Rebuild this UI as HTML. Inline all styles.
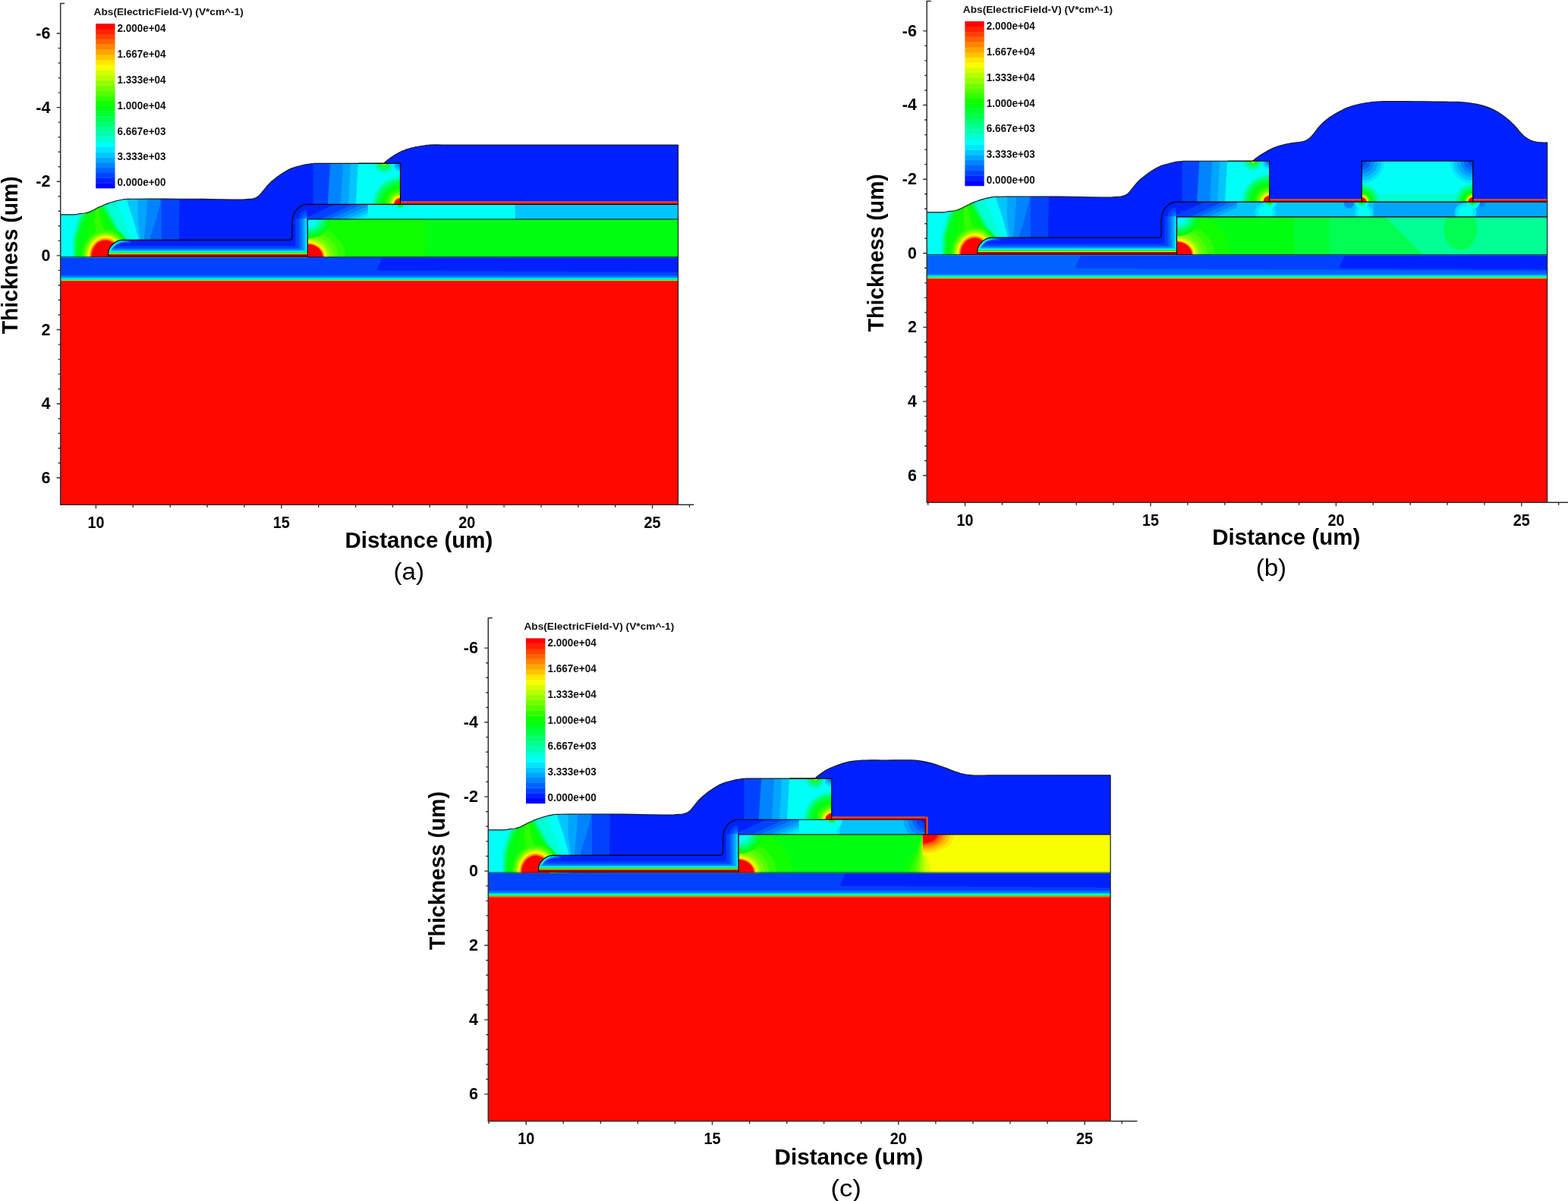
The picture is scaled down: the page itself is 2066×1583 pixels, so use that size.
<!DOCTYPE html>
<html><head><meta charset="utf-8"><title>Electric field distribution</title>
<style>html,body{margin:0;padding:0;background:#fff;overflow:hidden}svg{display:block}</style></head>
<body>
<svg width="2066" height="1583" viewBox="0 0 2066 1583">
<rect width="2066" height="1583" fill="#fff"/>
<clipPath id="deva"><path d="M79.7,282.9 80,282.9 83,282.9 86,282.9 88.9,282.9 91.6,282.9 94,282.9 95.5,282.9 96.9,282.9 98.2,282.9 99.4,282.8 100.5,282.7 101.1,282.6 101.7,282.4 102.2,282.2 102.8,282.1 103.5,281.9 105.2,281.7 107.3,281.5 109.5,281.3 111.7,281 113.8,280.6 115.4,280.1 117,279.6 118.5,279 120.1,278.3 121.6,277.6 123.3,276.8 124.9,275.9 126.6,275 128.3,274.1 130,273.3 131.7,272.5 133.3,271.7 135,271 136.7,270.2 138.5,269.5 140.8,268.6 143.2,267.8 145.6,267 148.1,266.2 150.6,265.5 153,264.8 155.5,264.2 158,263.7 160.4,263.2 162.7,262.8 164.5,262.6 166.1,262.5 167.7,262.4 169.6,262.4 172,262.3 182.7,262.2 197.7,262.1 215,262.1 233.1,262.2 250,262.2 267.6,262.4 286.6,262.8 305,263.1 320.7,263 331.5,262.1 333.7,261.7 335.4,261.2 336.8,260.7 338.1,260 339.5,259.2 341.1,258 342.6,256.5 344,254.9 345.4,253.2 346.8,251.5 348.2,249.8 349.6,248 351,246.3 352.4,244.5 354,242.8 355.8,241.1 357.7,239.3 359.7,237.7 361.7,236.1 363.7,234.5 365.6,233 367.5,231.6 369.5,230.3 371.4,229 373.4,227.7 375.3,226.5 377.2,225.4 379.2,224.3 381.1,223.3 383.1,222.4 385,221.6 387,221 388.9,220.4 390.9,219.8 392.8,219.3 394.7,218.8 396.6,218.2 398.5,217.8 400.4,217.3 402.4,216.9 404.7,216.5 407.1,216.2 409.6,215.9 412.1,215.7 414.5,215.4 452.5,215.4 505.6,215.4 506.1,215 506.5,214.6 507,214.1 507.4,213.7 508,213.2 509,212.4 510.1,211.4 511.3,210.4 512.7,209.4 514,208.4 515.7,207.2 517.6,205.9 519.5,204.7 521.5,203.5 523.4,202.4 525.2,201.4 527.1,200.5 529,199.6 530.9,198.8 532.9,198 535.3,197.1 537.8,196.3 540.3,195.5 542.9,194.8 545.5,194.2 548.1,193.6 550.7,193.2 553.3,192.7 555.8,192.3 558.2,192 559.9,191.8 561.3,191.6 562.8,191.4 564.4,191.2 566.4,191.1 571.1,190.9 576.6,190.9 583.1,191 590.8,191.1 600,191.1 640.1,191.1 696.5,191.1 762.2,191.1 830.2,191.1 893.5,191.1 893.5,665.3 79.7,665.3Z"/></clipPath>
<g clip-path="url(#deva)">
<rect x="79.7" y="369.5" width="813.8" height="295.8" fill="#ff0800"/>
<rect x="78.7" y="338" width="815.8" height="33" fill="#0021ff"/>
<path fill="#0042ff" d="M79.2,338L894.7,338L894.7,340.2L503.7,340.2L502.9,341L502.9,341.5L501.9,343L501.9,344L499.4,348.5L499.4,349.5L497.4,353L497.4,354L496.4,355.5L496.7,356.3L498.7,356.3L499.2,356.8L582.2,356.8L582.7,357.3L665.2,357.3L665.7,357.8L748.7,357.8L749.2,358.3L832.2,358.3L832.7,358.8L894.7,358.8L894.7,371L78.7,371L78.7,338Z"/>
<path fill="#0063ff" d="M79.2,338L405.6,338L405.6,339.5L405.2,339.9L78.7,339.9L78.7,338ZM79.2,362.5L894.7,362.5L894.7,371L78.7,371L78.7,362.5Z"/>
<path fill="#0084ff" d="M79.2,338L405.5,338L405.2,339.8L78.7,339.8L78.7,338ZM79.2,364.2L894.7,364.2L894.7,371L78.7,371L78.7,364.2Z"/>
<path fill="#00a5ff" d="M79.2,338L405.4,338L405.2,339.6L78.7,339.6L78.7,338ZM79.2,365.6L894.7,365.6L894.7,371L78.7,371L78.7,365.6Z"/>
<path fill="#00c5ff" d="M79.2,338L405.2,338L405.2,339.2L78.7,339.2L78.7,338ZM79.2,366.2L894.7,366.2L894.7,371L78.7,371L78.7,366.2Z"/>
<path fill="#00e6ff" d="M79.2,366.8L894.7,366.8L894.7,371L78.7,371L78.7,366.8Z"/>
<path fill="#00fff7" d="M79.2,367.3L894.7,367.3L894.7,371L78.7,371L78.7,367.3Z"/>
<path fill="#00ffd6" d="M79.2,367.7L894.7,367.7L894.7,371L78.7,371L78.7,367.7Z"/>
<path fill="#00ffb5" d="M79.2,367.9L894.7,367.9L894.7,371L78.7,371L78.7,367.9Z"/>
<path fill="#00ff94" d="M79.2,368.2L894.7,368.2L894.7,371L78.7,371L78.7,368.2Z"/>
<path fill="#00ff73" d="M79.2,368.4L894.7,368.4L894.7,371L78.7,371L78.7,368.4Z"/>
<path fill="#00ff52" d="M79.2,368.7L894.7,368.7L894.7,371L78.7,371L78.7,368.7Z"/>
<path fill="#00ff31" d="M79.2,368.9L894.7,368.9L894.7,371L78.7,371L78.7,368.9Z"/>
<path fill="#00ff10" d="M79.2,369.1L894.7,369.1L894.7,371L78.7,371L78.7,369.1Z"/>
<path fill="#10ff00" d="M79.2,369.2L894.7,369.2L894.7,371L78.7,371L78.7,369.2Z"/>
<path fill="#31ff00" d="M79.2,369.3L894.7,369.3L894.7,371L78.7,371L78.7,369.3Z"/>
<path fill="#52ff00" d="M79.2,369.4L894.7,369.4L894.7,371L78.7,371L78.7,369.4Z"/>
<path fill="#73ff00" d="M79.2,369.6L894.7,369.6L894.7,371L78.7,371L78.7,369.6Z"/>
<path fill="#94ff00" d="M79.2,369.7L894.7,369.7L894.7,371L78.7,371L78.7,369.7Z"/>
<path fill="#b5ff00" d="M79.2,369.8L894.7,369.8L894.7,371L78.7,371L78.7,369.8Z"/>
<path fill="#d6ff00" d="M79.2,369.9L894.7,369.9L894.7,371L78.7,371L78.7,369.9Z"/>
<path fill="#f7ff00" d="M79.2,370L894.7,370L894.7,371L78.7,371L78.7,370Z"/>
<path fill="#ffe600" d="M79.2,370.1L894.7,370.1L894.7,371L78.7,371L78.7,370.1Z"/>
<path fill="#ffc500" d="M79.2,370.2L894.7,370.2L894.7,371L78.7,371L78.7,370.2Z"/>
<path fill="#ffa500" d="M79.2,370.2L894.7,370.2L894.7,371L78.7,371L78.7,370.2Z"/>
<path fill="#ff8400" d="M79.2,370.3L894.7,370.3L894.7,371L78.7,371L78.7,370.3Z"/>
<path fill="#ff6300" d="M79.2,370.4L894.7,370.4L894.7,371L78.7,371L78.7,370.4Z"/>
<path fill="#ff4200" d="M79.2,370.4L894.7,370.4L894.7,371L78.7,371L78.7,370.4Z"/>
<path fill="#ff2100" d="M79.2,370.5L894.7,370.5L894.7,371L78.7,371L78.7,370.5Z"/>
<path fill="#ff0000" d="M79.2,370.7L894.7,370.7L894.7,371L78.7,371L78.7,370.7Z"/>
<rect x="78.7" y="205" width="336.8" height="134" fill="#0021ff"/>
<path fill="#0042ff" d="M79.2,205L236.6,205L236.6,268L236.1,294L235.9,339L78.7,339L78.7,205Z"/>
<path fill="#0063ff" d="M79.2,205L212.9,205L212.9,339L78.7,339L78.7,205Z"/>
<path fill="#0084ff" d="M79.2,205L211.4,205L211.4,258L211.2,268L205.2,290L198,313.5L197.9,339L78.7,339L78.7,205Z"/>
<path fill="#00a5ff" d="M79.2,205L194.2,205L194.2,258L193.9,268L192.3,290.5L190,313.5L189.9,339L78.7,339L78.7,205Z"/>
<path fill="#00c5ff" d="M79.2,205L181.6,205L181.6,290L184.9,314L184.9,339L78.7,339L78.7,205Z"/>
<path fill="#00e6ff" d="M79.2,205L166.5,205L166.5,258.5L168.6,268.5L176,290L182.5,314L182.5,339L78.7,339L78.7,205Z"/>
<path fill="#00fff7" d="M79.2,205L166,205L166,258L168,268L175.7,290.3L181.8,313L182,339L78.7,339L78.7,205Z"/>
<path fill="#00ffd6" d="M116.7,205L151.8,205L151.8,258L153.8,268L173.4,314L173.9,339L95.2,339L95.2,314L101.1,290.5L112.3,268L116.3,258L116.3,205Z"/>
<path fill="#00ffb5" d="M118.2,205L137.3,205L137.3,258L139.3,268L150.5,290L160.2,306.7L165.4,313L169,319L171,324L172.4,329.5L173,333.5L173.1,339L96.2,339L96.3,314L102.7,290L113.9,268L117.9,258L117.9,205Z"/>
<path fill="#00ff94" d="M119.7,205L135.4,205L135.4,258L137.7,268L149.2,290L158.1,305.5L164.3,312L168.4,318.5L170.3,323L171.8,328L172.8,334L172.9,339L97.1,339L97.5,314L104.2,290L115.5,268L119.5,258L119.5,205Z"/>
<path fill="#00ff73" d="M121.2,205L133.6,205L133.6,258L136,268L155.8,304L162.8,310.5L165.5,314L167.9,318L170.1,323L171.6,328L172.5,333.5L172.7,339L98.1,339L98.6,314L105.6,290L117.1,268L121.1,258L121.1,205Z"/>
<path fill="#00ff52" d="M123.2,205L131.8,205L131.8,258L134.4,268L154.2,303.5L158.2,306.4L161.7,309.6L164.7,313.2L167.4,317.5L169.7,322.5L171.4,328L172.3,333.5L172.6,339L99,339L99.7,314L107.1,290L118.7,268L122.7,258L122.7,205Z"/>
<path fill="#00ff31" d="M124.7,205L129.9,205L129.9,258L132.7,268L152.2,302.5L157.2,305.8L160.8,309L164.3,313L167.2,317.5L169.5,322.5L171.2,328L172.1,333L172.4,339L100,339L100.8,314L108.5,290L120.3,268L124.3,258L124.3,205Z"/>
<path fill="#00ff10" d="M126.2,205L128.1,205L128.1,258L131.1,268L143.8,289.5L150.4,302L155.6,305L159.5,308L163.3,312L166.7,317L169.2,322.2L170.8,327L171.8,332.5L172.1,339L101.1,339L101.2,331.5L102.2,313.3L110.2,289.6L122,268L125.7,258.5L125.7,205Z"/>
<path fill="#10ff00" d="M126.2,205L127.2,205L127.2,258L129.5,268L142.7,300L144.2,300.8L146.2,301L146.7,301.4L147.7,301.5L151.7,303L156.7,306L161.7,310.5L165.2,315L166.7,317.5L168.7,321.5L170.2,325.9L170.3,327L170.7,327.5L171.3,332L171.7,333L171.7,339L106.1,339L106.2,334L107.7,326L110.2,319.5L114.6,312L117.1,290L123.9,268L125.9,258.5L125.9,205Z"/>
<path fill="#31ff00" d="M126.2,205L126.5,205L126.5,258L127.9,268L132.5,290L136.7,303L143.2,303.3L149.2,305L154.8,308L159.9,312.5L164,318L167.1,324.5L169,331.5L169.5,339L108.5,339L108.7,334L109.5,329L111,324L113.1,319.5L115.6,315.5L118.7,311.8L122.2,308.7L126.4,306L124.5,290L126.1,258L126.1,205Z"/>
<path fill="#52ff00" d="M135.7,305.5L141.7,305.4L147.7,306.8L153.2,309.6L158.2,313.8L162.2,319L165.2,325.1L167,332L167.5,339L110.5,339L110.8,333L112.2,327L114.4,321.5L117.2,316.9L120.7,312.9L125.2,309.3L130.2,306.8L135.4,305.5Z"/>
<path fill="#73ff00" d="M135.2,307L141.2,306.8L146.8,308L152.2,310.6L157.2,314.7L161,319.5L164,325.5L165.7,332L166.2,339L111.8,339L112,333.5L113.2,328L115.2,322.7L118,318L121.5,314L125.7,310.7L130.2,308.4L135.1,307Z"/>
<path fill="#94ff00" d="M135.2,308.4L140.7,308.2L146.2,309.3L151.7,311.9L156.2,315.6L160.1,320.5L162.8,326L164.6,332.5L165,339L113,339L113.3,333.5L114.3,328.5L116.3,323.5L118.9,319L122.2,315.2L126.2,312L130.2,309.9L134.8,308.5Z"/>
<path fill="#b5ff00" d="M138.2,309.5L143.2,309.9L147.7,311.3L152.2,313.8L156.3,317.5L159.8,322.5L161.9,327L163.4,332.5L163.8,339L114.2,339L114.5,333.5L115.6,328.5L117.6,323.5L120.9,318.5L124.7,314.7L128.7,312.1L133.2,310.3L138.1,309.5Z"/>
<path fill="#d6ff00" d="M135.2,310.9L140.7,310.6L145.7,311.7L150.7,314.1L154.9,317.5L158.4,322L160.9,327L162.5,333L162.9,339L115.1,339L115.4,334L116.3,329.5L118,325L120.3,321L123.2,317.4L126.7,314.5L130.7,312.3L134.7,311Z"/>
<path fill="#f7ff00" d="M135.2,312L140.2,311.7L145.2,312.6L150.2,315L154.2,318.3L157.6,322.5L160,327.5L161.5,333L161.9,339L116.1,339L116.3,334L117.3,329.5L119,325L121.2,321.4L124.2,317.9L127.7,315.1L131.2,313.2L135.2,312Z"/>
<path fill="#ffe600" d="M135.7,313L140.2,312.7L145.2,313.7L149.7,315.9L153.7,319.2L157,323.5L159.4,328.5L160.6,333L161,339L117,339L117.1,335L118,330.5L119.4,326.5L121.9,322L124.7,318.8L127.7,316.3L131.7,314.1L135.7,313Z"/>
<path fill="#ffc500" d="M135.7,313.9L140.7,313.7L145.2,314.7L149.2,316.6L153.2,319.9L156.4,324L158.5,328.5L159.9,333.5L160.2,339L117.8,339L118,334.5L118.8,330.5L120.3,326.5L122.3,323L125.2,319.5L128.2,317L131.7,315.1L135.2,314Z"/>
<path fill="#ffa500" d="M135.2,314.9L139.7,314.5L144.2,315.3L148.2,317L152.2,320.1L155.4,324L157.7,328.5L159.1,333.5L159.4,339L118.6,339L118.7,335L119.5,331L120.9,327L122.9,323.5L125.4,320.5L128.2,318.1L131.2,316.3L134.8,315Z"/>
<path fill="#ff8400" d="M137.7,315.5L141.7,315.6L145.7,316.7L149.2,318.6L152.7,321.8L155.1,325L157.1,329L158.5,334.5L158.7,339L119.3,339L119.4,335.5L120.4,330.5L121.8,327L124.3,323L126.7,320.4L129.7,318.1L133.7,316.2L137.2,315.5Z"/>
<path fill="#ff6300" d="M137.7,315.9L141.7,316.1L145.7,317.3L149.2,319.3L152.3,322L154.9,325.5L156.8,329.5L157.8,333.5L158.2,339L119.8,339L120.1,334L121.1,330L122.6,326.5L124.5,323.5L127.2,320.6L130.2,318.4L133.2,316.9L137.2,316Z"/>
<path fill="#ff4200" d="M136.7,316.5L140.7,316.4L144.7,317.3L148.2,319.1L151.7,322L154.4,325.5L156.4,329.5L157.6,334L157.9,339L120.1,339L120.3,335L121.1,331L122.5,327.5L124.6,324L127.2,321.1L129.9,319L133.2,317.4L136.5,316.5Z"/>
<path fill="#ff2100" d="M136.2,316.9L140.2,316.7L144.2,317.6L147.7,319.2L151.2,322L154,325.5L156,329.5L157.2,334L157.5,339L120.5,339L120.7,335L121.4,331.5L122.7,327.9L124.7,324.5L127.2,321.6L129.7,319.6L132.7,318L135.9,317Z"/>
<path fill="#ff0000" d="M135.7,317.4L140.2,317.2L144.2,318L148.2,320L151.2,322.5L153.9,326L155.8,330L156.8,334L157.1,339L120.9,339L121,335L121.7,331.6L123,328L124.7,325.1L126.7,322.6L129.2,320.4L132.5,318.5L135.5,317.5Z"/>
<rect x="414.5" y="120" width="480" height="149.7" fill="#0021ff"/>
<clipPath id="ga"><rect x="412.5" y="215.4" width="115.0" height="53.79999999999998"/></clipPath>
<g clip-path="url(#ga)">
<rect x="411.5" y="214.4" width="117" height="55.8" fill="#0021ff"/>
<path fill="#0042ff" d="M412.5,214.4L528.5,214.4L528.5,270.4L411.5,270.4L411.5,224.2L412.1,214.4Z"/>
<path fill="#0063ff" d="M435,214.4L528.5,214.4L528.5,270.4L431.6,270.4L434.9,214.4Z"/>
<path fill="#0084ff" d="M435.5,214.4L528.5,214.4L528.5,270.4L431.9,270.4L435.4,214.4ZM527,214.9L526.8,215.4L527,215.9L527.5,216.1L528,215.9L528.2,215.4L528,214.9L527.5,214.7L527,214.9Z"/>
<path fill="#00a5ff" d="M452.5,214.4L523.1,214.4L523.1,216.4L524.2,218.4L526,219.6L528.5,219.7L528.5,270.4L448.8,270.4L452.1,214.4Z"/>
<path fill="#00c5ff" d="M462.5,214.4L521,214.4L521.2,217.4L522.7,219.9L524,220.9L525.5,221.6L528.5,221.8L528.5,270.4L458.7,270.4L462.1,214.4Z"/>
<path fill="#00e6ff" d="M472,214.4L519.3,214.4L519.2,217.9L520.1,219.9L521.3,221.4L523,222.8L524.5,223.5L526.5,224L528.5,223.9L528.5,270.4L468.6,270.4L471.8,214.4Z"/>
<path fill="#00fff7" d="M472.5,214.4L518.6,214.4L518.6,218.9L518.2,220.9L519.3,222.4L521,224L523.5,225.3L526,226L528.5,226L528.5,270.4L468.9,270.4L472.3,214.4Z"/>
<path fill="#00ffd6" d="M493,214.4L517.7,214.4L517.6,221.4L516.7,222.9L514.9,224.9L512,227.1L509.5,228.1L506,228.6L502.5,228.1L502,227.7L501,227.6L499,226.5L496.5,224.3L494.9,222.4L493.8,220.4L492.9,216.4L492.9,214.4ZM524,232.9L528.5,232.7L528.5,270.4L491,270.4L491.5,263.4L493.1,256.9L496,250.8L500,245.2L505,240.5L510.5,236.9L517,234.2L523.7,232.9Z"/>
<path fill="#00ffb5" d="M494.5,214.4L516.7,214.4L516.6,220.4L515,222.9L513,224.8L511,226L508.5,226.8L506,227.1L503.5,226.8L501.5,226.2L499.5,225.1L497.4,223.4L495.9,221.4L495,219.4L494.4,216.9L494.3,214.4ZM525.5,233.9L528.5,233.8L528.5,270.4L492.1,270.4L492.6,263.4L494.3,256.9L497.2,250.9L501.3,245.4L506.3,240.9L512,237.4L518.5,235L525.2,233.9Z"/>
<path fill="#00ff94" d="M496.5,214.4L515.7,214.4L515.5,218.4L514.6,220.4L513.5,221.9L511.9,223.4L510,224.5L508,225.1L506,225.3L504,225.1L502,224.5L500.1,223.4L498.5,221.9L497.4,220.4L496.5,218.4L496.1,216.4L496.1,214.4ZM527,235.4L528.5,235.4L528.5,270.4L493.7,270.4L494.1,263.9L495.8,257.4L498.8,251.4L503,245.9L508,241.6L513.5,238.4L520,236.2L526.6,235.4Z"/>
<path fill="#00ff73" d="M498.5,214.4L513.9,214.4L513.6,217.9L512,220.7L509.5,222.6L508,223.1L506,223.4L504,223.1L502.5,222.6L500,220.7L498.4,217.9L498.1,214.4ZM522.5,237.3L528.5,237L528.5,270.4L495.3,270.4L495.6,264.4L496.9,258.9L499.1,253.9L502.4,248.9L506.5,244.7L511.2,241.4L516.5,238.9L522.1,237.4Z"/>
<path fill="#00ff52" d="M500.5,214.4L511.8,214.4L511.7,216.9L510.5,219.2L508.5,220.8L506,221.3L503.5,220.8L501.5,219.2L500.3,216.9L500.2,214.4ZM523,238.8L528.5,238.5L528.5,270.4L496.8,270.4L497.1,264.9L498.4,259.4L500.6,254.4L503.6,249.9L507.5,245.9L512,242.7L517,240.4L522.6,238.9Z"/>
<path fill="#00ff31" d="M501.5,214.7L501.5,214.4L510.5,214.4L510.5,216.4L509.8,217.9L508.5,219.2L507,219.9L505.5,219.9L504,219.5L502.5,218.3L501.7,216.9L501.5,214.9ZM522.5,241.4L528.5,241L528.5,270.4L499.3,270.4L499.5,265.4L500.7,260.4L502.6,255.9L505.5,251.5L509,247.9L513,245L517.5,242.8L522.5,241.4Z"/>
<path fill="#00ff10" d="M502.5,214.4L509.6,214.4L509.7,215.9L509,217.7L507.5,218.9L506,219.2L504.5,218.9L503,217.7L502.3,215.9L502.4,214.4ZM523.5,244.4L528.5,244.1L528.5,270.4L502.4,270.4L502.6,265.9L503.6,261.4L505.3,257.4L508,253.4L511,250.3L515,247.4L519,245.6L523.5,244.4Z"/>
<path fill="#10ff00" d="M503.5,214.4L509,214.4L509,216.4L508.4,217.4L507.5,218.2L506,218.4L504.5,218.2L503.6,217.4L503,216.4L503,214.4ZM525,247.3L528.5,247.2L528.5,270.4L505.5,270.4L505.7,265.9L506.7,261.9L508.3,258.4L510.8,254.9L513.5,252.2L516.5,250.1L521,248.2L524.5,247.4Z"/>
<path fill="#31ff00" d="M503.5,214.4L508.7,214.4L508.8,215.9L508.4,216.9L507,218.1L506,218.2L505,218.1L503.6,216.9L503.2,215.9L503.3,214.4ZM523.5,250.4L528.5,250L528.5,270.4L508.3,270.4L508.4,266.9L509,263.9L510.1,260.9L512,257.8L514.5,255L517,253L520,251.5L523.3,250.4Z"/>
<path fill="#52ff00" d="M503.5,214.4L508.5,214.4L508.5,216.4L507.5,217.6L506.5,218.1L505.5,218.1L504.5,217.6L503.8,216.9L503.3,215.9L503.3,214.9ZM525,252.9L528.5,252.7L528.5,270.4L511,270.4L511.1,267.4L511.7,264.4L512.9,261.4L514.5,259L516.5,256.9L519,255L522,253.6L524.8,252.9Z"/>
<path fill="#73ff00" d="M504,214.4L508.3,214.4L508.5,215.9L508,216.9L507,217.7L506,217.9L505,217.7L504,216.9L503.5,215.9L503.7,214.4ZM525,254.9L528.5,254.7L528.5,270.4L513,270.4L513.1,267.4L513.6,264.9L514.6,262.4L515.9,260.4L517.8,258.4L520,256.7L522.5,255.5L524.9,254.9Z"/>
<path fill="#94ff00" d="M504,214.4L508.2,214.4L508.4,215.4L508,216.7L507,217.6L506,217.8L505,217.6L504,216.7L503.6,215.4L503.8,214.4ZM525.5,255.8L528.5,255.7L528.5,270.4L514.1,270.4L514.1,267.9L514.5,265.4L515.6,262.9L516.9,260.9L518.5,259.1L520.5,257.7L523,256.5L525.2,255.9Z"/>
<path fill="#b5ff00" d="M504,214.4L508,214.4L508.2,215.4L508,216.4L507,217.4L505.5,217.6L504,216.4L503.8,214.9ZM526,256.8L528.5,256.8L528.5,270.4L515.1,270.4L515.1,267.9L515.6,265.4L516.5,263.4L517.8,261.4L519.5,259.7L521.3,258.4L523.5,257.4L525.5,256.9Z"/>
<path fill="#d6ff00" d="M504,214.9L504.2,214.4L507.8,214.4L508,215.9L507,217.2L505.5,217.4L504.2,216.4L504,214.9ZM526,257.9L528.5,257.8L528.5,270.4L516.1,270.4L516.2,267.9L516.6,265.9L518.5,262.2L521.6,259.4L523.5,258.5L525.9,257.9Z"/>
<path fill="#f7ff00" d="M504.5,214.4L507.6,214.4L507.9,215.4L507.6,216.4L507,217L506,217.3L505,217L504.4,216.4L504.1,215.4L504.4,214.4ZM525.5,258.9L528.5,258.7L528.5,270.4L517,270.4L517.3,266.4L519,263L521.7,260.4L525.3,258.9Z"/>
<path fill="#ffe600" d="M504.5,214.5L507.4,214.4L507.7,215.9L506.9,216.9L505.5,217.1L504.5,216.3L504.3,214.9ZM525,259.8L528.5,259.5L528.5,270.4L517.8,270.4L518,266.9L519.3,263.9L521.5,261.5L524.6,259.9Z"/>
<path fill="#ffc500" d="M504.5,214.9L504.8,214.4L507.2,214.4L507.5,214.9L507.5,215.9L506.5,216.9L505.5,216.9L504.5,215.9L504.5,214.9ZM526,260.4L528.5,260.3L528.5,270.4L518.6,270.4L518.8,266.9L520.3,263.9L522.5,261.8L525.8,260.4Z"/>
<path fill="#ffa500" d="M505,214.4L507,214.4L507.4,215.4L507.3,215.9L506.5,216.7L505.5,216.7L504.7,215.9L504.7,214.9ZM526.5,260.7L528.5,260.7L528.5,270.4L519.1,270.4L519.3,266.9L520.9,263.9L523.5,261.7L526,260.9Z"/>
<path fill="#ff8400" d="M505,214.8L505.4,214.4L506.6,214.4L507.1,214.9L507.1,215.9L506.5,216.5L505.5,216.5L504.9,215.9L504.9,214.9ZM525,261.3L528.5,261L528.5,270.4L519.3,270.4L519.4,267.4L520.4,264.9L522.5,262.6L524.8,261.4Z"/>
<path fill="#ff6300" d="M505.5,214.6L506,214.5L506.8,214.9L506.9,215.4L506.5,216.2L506,216.3L505.2,215.9L505.2,214.9ZM525.5,261.4L528.5,261.2L528.5,270.4L519.5,270.4L519.6,267.4L520.6,264.9L522.5,262.8L525.3,261.4Z"/>
<path fill="#ff4200" d="M506,214.7L506.5,214.9L506.7,215.4L506.5,215.9L506,216.1L505.5,215.9L505.3,215.4L505.5,214.9ZM526.5,261.3L528.5,261.3L528.5,270.4L519.7,270.4L519.8,267.4L521,264.7L523.4,262.4L526.1,261.4Z"/>
<path fill="#ff2100" d="M506,214.9L506.5,215.4L506,215.9L505.5,215.4ZM525,261.9L528.5,261.5L528.5,270.4L519.8,270.4L519.9,267.9L520.7,265.4L522.5,263.3L524.9,261.9Z"/>
<path fill="#ff0000" d="M506,215.2L506.2,215.4L506,215.6L505.8,215.4ZM525.5,261.9L528.5,261.8L528.5,270.4L520,270.3L520,268.1L521,265.3L523.3,262.9L525.4,261.9Z"/>
</g>
<clipPath id="ba"><path d="M142.6,338 142.6,334 143.2,330 145.5,325.5 149,321.5 153.5,318.3 158,316.7 162,316.3 381.5,316.3 384,315.2 385,312.5 385,293 385.8,286 388,280.5 391.5,275.5 396,272 400.5,270 404,269.3 893.5,269.3 893.5,338.5 142.6,338.5Z"/></clipPath>
<g clip-path="url(#ba)">
<rect x="141" y="268" width="753.5" height="71" fill="#0021ff"/>
<path fill="#0042ff" d="M141.5,268L172,268L172,320.5L170.5,321.1L164.5,320.4L160.5,320.7L156.2,322L154.3,323L153,324L153,324.2L389,324.2L389.3,323.5L389.3,288.5L393.3,288L394.1,284L395.1,282L396.5,280.3L399.5,278.1L402,277.2L404,277L404.3,279.5L404.5,286.3L444.9,268L894.5,268L894.5,339L141,339L141,268Z"/>
<path fill="#0063ff" d="M141.5,268L169.5,268L169.5,319L169,319.5L168,319.7L161,320.1L156.5,321.4L154,322.8L152,324.3L149.9,326.5L150,327.1L393,327.1L393.3,327L393.4,326.5L393.4,288.5L397.7,288L398.5,285L400,283L402,281.8L404,281.4L404.4,288.5L404.5,297L468.3,268L894.5,268L894.5,339L141,339L141,268Z"/>
<path fill="#0084ff" d="M141.5,268L166.9,268L166.9,318.5L159,320.1L155,321.7L152.5,323.4L150.5,325.3L148.4,328L148.5,328.4L149,328.4L396,328.4L396.5,328L396.5,288.5L400.9,288L401.3,286.5L402,285.6L404,284.6L404.3,288.5L404.5,302.3L480,268L894.5,268L894.5,339L141,339L141,268Z"/>
<path fill="#00a5ff" d="M141.5,268L164.4,268L164.4,318L157,320.3L153.5,322.2L151.5,323.7L149.4,326L147.7,328.5L147.5,329.6L398.5,329.6L399,329.5L399,288.5L403.5,288L404,287.3L404.3,288.5L404.5,307.9L484.5,271.6L484.6,268L894.5,268L894.5,339L141,339L141,268Z"/>
<path fill="#00c5ff" d="M141.5,268L161.8,268L161.8,318L156,320.2L152,322.8L148.2,327L146.8,329.5L146.7,330L147,330.2L400.5,330.2L401.1,330L401.1,288.5L404,288.1L404.2,288.5L404.5,312.8L484.5,276.5L484.7,268L894.5,268L894.5,339L141,339L141,268Z"/>
<path fill="#00e6ff" d="M141.5,268L158.3,268L158.3,318L158.1,318.5L153,321.3L149.5,324.5L147.9,326.5L146.5,329L145.9,330.5L146.5,330.9L402,330.9L402.9,330.5L402.9,288.5L404.1,288.5L404.2,310.5L404.5,317.1L484.5,280.7L484.8,268L678.8,268L678.8,339L141,339L141,268Z"/>
<path fill="#00fff7" d="M141.5,268L152.3,268L152.3,320.5L152.1,321L148.7,324.5L146.9,327L145.4,330L145,331.5L404,331.5L404.2,331L404.2,322L404.5,321.2L484.5,284.8L484.9,282L485,268L678.5,268L678.5,339L141,339L141,268Z"/>
<path fill="#00ffd6" d="M521.5,268L533.9,268L533.7,271L532.5,273.3L530.4,275L527.5,275.7L524.6,275L522.5,273.3L521.3,271L521.1,268ZM141.5,331.7L484.5,331.8L484.9,333L485,339L141,339L141,331.7Z"/>
<path fill="#00ffb5" d="M523,268L532.3,268L532.2,270.5L531.1,272.5L529.5,273.7L527.5,274.1L525.5,273.7L523.9,272.5L522.8,270.5L522.7,268ZM141.5,332.1L484.5,332.1L484.9,333.5L485,339L141,339L141,332.1Z"/>
<path fill="#00ff94" d="M523.5,268L531.8,268L531.9,270L531,272L529.5,273.2L527.5,273.7L525.5,273.2L524,272L523.1,270L523.2,268ZM141.5,332.3L484.5,332.3L484.9,335L484.9,339L141,339L141,332.3Z"/>
<path fill="#00ff73" d="M523.5,268.5L523.6,268L531.4,268L531.5,270L530.8,271.5L529.9,272.5L528.5,273.1L527,273.2L525.5,272.7L524.2,271.5L523.5,270L523.5,268.5ZM141.5,332.6L484.5,332.6L484.9,335L484.9,339L141,339L141,332.6Z"/>
<path fill="#00ff52" d="M524,268.1L531,268L531.1,270L530.5,271.3L529.5,272.3L528.5,272.7L527,272.8L525.5,272.3L524.5,271.3L523.9,270L523.9,268.5ZM141.5,332.9L484.5,332.9L484.9,335.5L484.9,339L141,339L141,332.9Z"/>
<path fill="#00ff31" d="M524.5,268L530.6,268L530.8,269.5L530.2,271L529,272.1L527.5,272.5L526,272.1L524.8,271L524.2,269.5L524.4,268ZM141.5,333.2L484.5,333.2L484.9,335.5L484.9,339L141,339L141,333.2Z"/>
<path fill="#00ff10" d="M525,268L530.1,268L530.4,269.5L530,270.6L529,271.7L527.5,272.1L526,271.7L525,270.6L524.6,269.5L524.9,268ZM141.5,333.4L484.5,333.4L484.9,335.5L484.9,339L141,339L141,333.4Z"/>
<path fill="#10ff00" d="M525.5,268L529.6,268L530,269L529.5,270.5L528.5,271.5L527.5,271.6L526.5,271.5L525.5,270.5L525,269L525.4,268ZM141.5,333.7L484.5,333.7L484.8,335.5L484.8,339L141,339L141,333.7Z"/>
<path fill="#31ff00" d="M527,268.4L528.1,268.5L528.4,269.5L528,270L527,270L526.6,269.5L526.9,268.5ZM141.5,334L484.5,334L484.8,335.5L484.8,339L141,339L141,334Z"/>
<path fill="#52ff00" d="M141.5,334.2L484.5,334.2L484.8,335.5L484.8,339L141,339L141,334.2Z"/>
<path fill="#73ff00" d="M141.5,334.4L484.5,334.4L484.8,335.5L484.8,339L141,339L141,334.4Z"/>
<path fill="#94ff00" d="M141.5,334.6L484.5,334.6L484.8,339L141,339L141,334.6Z"/>
<path fill="#b5ff00" d="M141.5,334.6L484.5,334.6L484.7,339L141,339L141,334.6Z"/>
<path fill="#d6ff00" d="M141.5,334.7L484.5,334.7L484.7,339L141,339L141,334.7Z"/>
<path fill="#f7ff00" d="M141.5,334.8L484.5,334.8L484.7,339L141,339L141,334.8Z"/>
<path fill="#ffe600" d="M141.5,334.9L484.5,334.9L484.7,339L141,339L141,334.9Z"/>
<path fill="#ffc500" d="M141.5,335L484.5,335L484.6,339L141,339L141,335Z"/>
<path fill="#ffa500" d="M141.5,335L484.5,335L484.6,339L141,339L141,335Z"/>
<path fill="#ff8400" d="M141.5,335.1L484.5,335.1L484.6,339L141,339L141,335.1Z"/>
<path fill="#ff6300" d="M141.5,335.2L484.5,335.2L484.6,339L141,339L141,335.2Z"/>
<path fill="#ff4200" d="M141.5,335.3L484.5,335.3L484.6,339L141,339L141,335.3Z"/>
<path fill="#ff2100" d="M141.5,335.3L484.5,335.3L484.5,339L141,339L141,335.3Z"/>
<path fill="#ff0000" d="M141.5,335.4L484.5,335.4L484.5,339L141,339L141,335.4Z"/>
</g>
<clipPath id="ca"><rect x="405.3" y="289.0" width="488.2" height="50.10000000000002"/></clipPath>
<g clip-path="url(#ca)">
<rect x="404.3" y="288" width="490.2" height="51.5" fill="#00fff7"/>
<path fill="#00ffd6" d="M417.3,288L894.8,288L894.8,339.5L404.3,339.5L404.3,298.8L406.8,298.8L409.3,298.3L411.8,297.3L413.8,296L415.3,294.5L416.6,292.5L417.2,290.5L417.3,288Z"/>
<path fill="#00ffb5" d="M420.3,288L894.8,288L894.8,339.5L404.3,339.5L404.3,301L407.3,300.9L410.3,300.3L413.3,299L415.8,297.4L417.6,295.5L419.1,293L419.8,290.5L419.9,288Z"/>
<path fill="#00ff94" d="M422.8,288L894.8,288L894.8,339.5L404.3,339.5L404.3,303.1L407.8,303L411.3,302.2L414.8,300.8L417.5,299L419.8,296.7L421.4,294L422.4,291L422.5,288Z"/>
<path fill="#00ff73" d="M424.8,288L894.8,288L894.8,339.5L404.3,339.5L404.3,304.9L408.3,304.7L412.3,303.8L416.3,302.1L419.3,300L421.7,297.5L423.5,294.5L424.5,291.5L424.7,288Z"/>
<path fill="#00ff52" d="M426.8,288L894.8,288L894.8,339.5L404.3,339.5L404.3,306.6L408.8,306.4L412.8,305.5L416.8,303.9L420.5,301.5L423.3,298.7L425.3,295.5L426.5,292L426.8,288Z"/>
<path fill="#00ff31" d="M429.3,288L894.8,288L894.8,339.5L404.3,339.5L404.3,308.3L409.3,308L413.9,307L418.3,305.1L422.2,302.5L425.1,299.5L427.3,296L428.6,292L428.9,288Z"/>
<path fill="#00ff10" d="M432.3,288L894.8,288L894.8,339.5L404.3,339.5L404.3,311L409.8,310.7L415.3,309.5L420.3,307.3L424.5,304.5L427.9,301L430.4,297L431.9,292.5L432.2,288Z"/>
<path fill="#10ff00" d="M436.8,288L560.1,288L560.1,339.5L404.3,339.5L404.3,314L410.8,314L411.3,313.5L413.3,313.5L413.8,313L415.3,313L415.8,312.5L416.8,312.5L417.3,312L419.8,311.5L420.3,311L422.8,310L425.3,308L425.8,308L427.3,306.5L427.8,306.5L430.8,303.5L430.8,303L432.3,301.5L432.3,301L433.3,300L434.8,297L434.9,296L435.8,294L435.9,291.5L436.3,291L436.3,288Z"/>
<path fill="#31ff00" d="M431.3,303.2L436.3,306.2L441.2,310L445.3,314.1L448.8,318.8L451.4,323.5L453.4,328.5L454.6,334L454.9,339.5L404.3,339.5L404.3,314.1L410.8,314.1L411.3,313.6L413.3,313.6L413.8,313.2L415.3,313.1L415.8,312.7L416.8,312.7L417.3,312.2L419.8,311.7L421.3,310.7L422.8,310.2L425.3,308.3L425.8,308.3L427.3,306.8L427.8,306.8L431.3,303.5Z"/>
<path fill="#52ff00" d="M423.8,309.5L424.8,309.2L425.3,309.4L431.8,313.3L436.1,317L439.5,321L442.3,325.5L444.1,330L445.2,334.5L445.5,339.5L404.3,339.5L404.3,314.2L410.8,314.2L411.3,313.8L413.3,313.8L413.8,313.3L415.3,313.3L415.8,312.8L416.8,312.8L417.3,312.3L419.8,311.9L421.3,310.9L422.8,310.4L423.8,309.5Z"/>
<path fill="#73ff00" d="M417.3,312.5L419.3,312.6L425.3,315.5L429.8,318.8L433.4,322.5L436.2,326.5L438,330.5L439.2,335L439.5,339.5L404.3,339.5L404.3,314.3L410.8,314.4L411.3,313.9L413.3,313.9L413.8,313.4L415.3,313.4L415.8,312.9L416.8,313L417.3,312.5Z"/>
<path fill="#94ff00" d="M404.8,314.5L411.3,314.3L415.8,315.5L421.3,317.8L426,321L430,325L432.8,329.5L434.4,334L435,339.5L404.3,339.5L404.3,314.5Z"/>
<path fill="#b5ff00" d="M405.3,315.5L410.8,316L415.8,317.2L420.8,319.5L425.1,322.5L428.4,326L431.2,330.5L432.6,335L433,339.5L404.3,339.5L404.3,315.5L404.8,315.5Z"/>
<path fill="#d6ff00" d="M404.8,317.2L409.8,317.5L414.8,318.7L419.3,320.7L423.5,323.5L426.8,327L429.3,331L430.6,335L431.1,339.5L404.3,339.5L404.3,317.2Z"/>
<path fill="#f7ff00" d="M404.8,318.4L409.8,318.7L414.3,319.8L418.8,321.8L422.6,324.5L425.8,327.9L428,331.5L429.3,335.5L429.6,339.5L404.3,339.5L404.3,318.4Z"/>
<path fill="#ffe600" d="M404.8,319.3L409.3,319.6L413.8,320.7L418,322.5L421.8,325.1L424.6,328L426.8,331.5L428.2,335.5L428.5,339.5L404.3,339.5L404.3,319.3Z"/>
<path fill="#ffc500" d="M404.8,320.2L409.3,320.5L413.3,321.5L417.3,323.2L420.8,325.6L423.7,328.5L425.9,332L427.1,335.5L427.4,339.5L404.3,339.5L404.3,320.2Z"/>
<path fill="#ffa500" d="M404.8,320.8L409.8,321.2L413.8,322.3L417.8,324.3L420.3,326.1L423.5,329.5L425.1,332L426.4,336L426.7,339.5L404.3,339.5L404.3,320.9Z"/>
<path fill="#ff8400" d="M404.8,321.2L408.8,321.4L413.3,322.5L416.8,324.1L420.3,326.5L423.1,329.5L424.9,332.5L426,336L426.3,339.5L404.3,339.5L404.3,321.2Z"/>
<path fill="#ff6300" d="M404.8,321.5L408.8,321.7L412.8,322.7L416.3,324.2L419.8,326.5L422.7,329.5L424.5,332.5L425.7,336L426,339.5L404.3,339.5L404.3,321.5Z"/>
<path fill="#ff4200" d="M404.8,321.8L408.8,322L412.8,323L416.3,324.5L419.8,326.9L422.3,329.5L424.2,332.5L425.3,336L425.6,339.5L404.3,339.5L404.3,321.8Z"/>
<path fill="#ff2100" d="M404.8,322L408.8,322.3L412.8,323.3L416.3,324.8L419.4,327L421.9,329.5L423.8,332.5L425,336L425.3,339.5L404.3,339.5L404.3,322.1Z"/>
<path fill="#ff0000" d="M404.8,322.3L408.1,322.5L412.5,323.5L416,325L419.3,327.3L421.8,329.9L423.4,332.5L424.8,336.8L425,339.5L404.3,339.5L404.3,322.3Z"/>
</g>
<rect x="527.5" y="265.8" width="366" height="3.2" fill="#ff0800"/><rect x="527.5" y="265.6" width="366" height="1" fill="#ff9a00" opacity="0.9"/>
<rect x="142.6" y="335.9" width="262.7" height="2.4" fill="#940000"/>
</g>
<path d="M79.7,282.9 80,282.9 83,282.9 86,282.9 88.9,282.9 91.6,282.9 94,282.9 95.5,282.9 96.9,282.9 98.2,282.9 99.4,282.8 100.5,282.7 101.1,282.6 101.7,282.4 102.2,282.2 102.8,282.1 103.5,281.9 105.2,281.7 107.3,281.5 109.5,281.3 111.7,281 113.8,280.6 115.4,280.1 117,279.6 118.5,279 120.1,278.3 121.6,277.6 123.3,276.8 124.9,275.9 126.6,275 128.3,274.1 130,273.3 131.7,272.5 133.3,271.7 135,271 136.7,270.2 138.5,269.5 140.8,268.6 143.2,267.8 145.6,267 148.1,266.2 150.6,265.5 153,264.8 155.5,264.2 158,263.7 160.4,263.2 162.7,262.8 164.5,262.6 166.1,262.5 167.7,262.4 169.6,262.4 172,262.3 182.7,262.2 197.7,262.1 215,262.1 233.1,262.2 250,262.2 267.6,262.4 286.6,262.8 305,263.1 320.7,263 331.5,262.1 333.7,261.7 335.4,261.2 336.8,260.7 338.1,260 339.5,259.2 341.1,258 342.6,256.5 344,254.9 345.4,253.2 346.8,251.5 348.2,249.8 349.6,248 351,246.3 352.4,244.5 354,242.8 355.8,241.1 357.7,239.3 359.7,237.7 361.7,236.1 363.7,234.5 365.6,233 367.5,231.6 369.5,230.3 371.4,229 373.4,227.7 375.3,226.5 377.2,225.4 379.2,224.3 381.1,223.3 383.1,222.4 385,221.6 387,221 388.9,220.4 390.9,219.8 392.8,219.3 394.7,218.8 396.6,218.2 398.5,217.8 400.4,217.3 402.4,216.9 404.7,216.5 407.1,216.2 409.6,215.9 412.1,215.7 414.5,215.4 452.5,215.4 505.6,215.4 506.1,215 506.5,214.6 507,214.1 507.4,213.7 508,213.2 509,212.4 510.1,211.4 511.3,210.4 512.7,209.4 514,208.4 515.7,207.2 517.6,205.9 519.5,204.7 521.5,203.5 523.4,202.4 525.2,201.4 527.1,200.5 529,199.6 530.9,198.8 532.9,198 535.3,197.1 537.8,196.3 540.3,195.5 542.9,194.8 545.5,194.2 548.1,193.6 550.7,193.2 553.3,192.7 555.8,192.3 558.2,192 559.9,191.8 561.3,191.6 562.8,191.4 564.4,191.2 566.4,191.1 571.1,190.9 576.6,190.9 583.1,191 590.8,191.1 600,191.1 640.1,191.1 696.5,191.1 762.2,191.1 830.2,191.1 893.5,191.1 893.5,191.1" fill="none" stroke="#1a1a1a" stroke-width="1.15"/>
<path d="M893.5,191.1 893.5,665.3" fill="none" stroke="#1a1a1a" stroke-width="1.15"/>
<path d="M472.5,215.4 527.5,215.4 527.5,269.2" fill="none" stroke="#000" stroke-width="1.15"/>
<path d="M142.6,338 142.6,334 143.2,330 145.5,325.5 149,321.5 153.5,318.3 158,316.7 162,316.3 381.5,316.3 384,315.2 385,312.5 385,293 385.8,286 388,280.5 391.5,275.5 396,272 400.5,270 404,269.3 893.5,269.3" fill="none" stroke="#000" stroke-width="1.15"/>
<path d="M405.3,338.5 405.3,289 893.5,289" fill="none" stroke="#000" stroke-width="1.15"/>
<path d="M79.7,338.7 893.5,338.7" fill="none" stroke="#000" stroke-width="1.0" opacity="0.75"/>
<path d="M85.2,4.6 79.7,4.6 79.7,665.3 914.2,665.3" fill="none" stroke="#303030" stroke-width="1.5"/>
<path d="M79.7,44H74.7M79.7,63.5H76.7M79.7,83H76.7M79.7,102.6H76.7M79.7,122.1H76.7M79.7,141.6H74.7M79.7,161.1H76.7M79.7,180.7H76.7M79.7,200.2H76.7M79.7,219.7H76.7M79.7,239.3H74.7M79.7,258.8H76.7M79.7,278.3H76.7M79.7,297.8H76.7M79.7,317.4H76.7M79.7,336.9H74.7M79.7,356.4H76.7M79.7,376H76.7M79.7,395.5H76.7M79.7,415H76.7M79.7,434.5H74.7M79.7,454.1H76.7M79.7,473.6H76.7M79.7,493.1H76.7M79.7,512.7H76.7M79.7,532.2H74.7M79.7,551.7H76.7M79.7,571.2H76.7M79.7,590.8H76.7M79.7,610.3H76.7M79.7,629.8H74.7M126.4,665.3V670.3M175.3,665.3V668.8M224.2,665.3V668.8M273,665.3V668.8M321.9,665.3V668.8M370.8,665.3V670.3M419.7,665.3V668.8M468.6,665.3V668.8M517.4,665.3V668.8M566.3,665.3V668.8M615.2,665.3V670.3M664.1,665.3V668.8M713,665.3V668.8M761.8,665.3V668.8M810.7,665.3V668.8M859.6,665.3V670.3M908.5,665.3V668.8" stroke="#303030" stroke-width="1.4" fill="none"/>
<g font-family='"Liberation Sans", Arial, sans-serif' font-weight="bold" font-size="21.5" fill="#000"><text x="66.4" y="51" text-anchor="end">-6</text><text x="66.4" y="148.6" text-anchor="end">-4</text><text x="66.4" y="246.3" text-anchor="end">-2</text><text x="66.4" y="343.9" text-anchor="end">0</text><text x="66.4" y="441.5" text-anchor="end">2</text><text x="66.4" y="539.2" text-anchor="end">4</text><text x="66.4" y="636.8" text-anchor="end">6</text></g>
<g font-family='"Liberation Sans", Arial, sans-serif' font-weight="bold" font-size="21.8" fill="#000"><text x="126.4" y="695.8" text-anchor="middle" textLength="22" lengthAdjust="spacingAndGlyphs">10</text><text x="370.8" y="695.8" text-anchor="middle" textLength="22" lengthAdjust="spacingAndGlyphs">15</text><text x="615.2" y="695.8" text-anchor="middle" textLength="22" lengthAdjust="spacingAndGlyphs">20</text><text x="859.6" y="695.8" text-anchor="middle" textLength="22" lengthAdjust="spacingAndGlyphs">25</text></g>
<text x="454.4" y="721.7" font-family='"Liberation Sans", Arial, sans-serif' font-weight="bold" font-size="29" textLength="195" lengthAdjust="spacingAndGlyphs">Distance (um)</text>
<text transform="translate(22.8,440.3) rotate(-90)" font-family='"Liberation Sans", Arial, sans-serif' font-weight="bold" font-size="29" textLength="208" lengthAdjust="spacingAndGlyphs">Thickness (um)</text>
<rect x="126.2" y="241.2" width="25.3" height="7.1" fill="#0000ff"/><rect x="126.2" y="234.4" width="25.3" height="7.1" fill="#0021ff"/><rect x="126.2" y="227.7" width="25.3" height="7.1" fill="#0042ff"/><rect x="126.2" y="220.9" width="25.3" height="7.1" fill="#0063ff"/><rect x="126.2" y="214.1" width="25.3" height="7.1" fill="#0084ff"/><rect x="126.2" y="207.3" width="25.3" height="7.1" fill="#00a5ff"/><rect x="126.2" y="200.6" width="25.3" height="7.1" fill="#00c5ff"/><rect x="126.2" y="193.8" width="25.3" height="7.1" fill="#00e6ff"/><rect x="126.2" y="187" width="25.3" height="7.1" fill="#00fff7"/><rect x="126.2" y="180.2" width="25.3" height="7.1" fill="#00ffd6"/><rect x="126.2" y="173.5" width="25.3" height="7.1" fill="#00ffb5"/><rect x="126.2" y="166.7" width="25.3" height="7.1" fill="#00ff94"/><rect x="126.2" y="159.9" width="25.3" height="7.1" fill="#00ff73"/><rect x="126.2" y="153.2" width="25.3" height="7.1" fill="#00ff52"/><rect x="126.2" y="146.4" width="25.3" height="7.1" fill="#00ff31"/><rect x="126.2" y="139.6" width="25.3" height="7.1" fill="#00ff10"/><rect x="126.2" y="132.8" width="25.3" height="7.1" fill="#10ff00"/><rect x="126.2" y="126.1" width="25.3" height="7.1" fill="#31ff00"/><rect x="126.2" y="119.3" width="25.3" height="7.1" fill="#52ff00"/><rect x="126.2" y="112.5" width="25.3" height="7.1" fill="#73ff00"/><rect x="126.2" y="105.7" width="25.3" height="7.1" fill="#94ff00"/><rect x="126.2" y="99" width="25.3" height="7.1" fill="#b5ff00"/><rect x="126.2" y="92.2" width="25.3" height="7.1" fill="#d6ff00"/><rect x="126.2" y="85.4" width="25.3" height="7.1" fill="#f7ff00"/><rect x="126.2" y="78.6" width="25.3" height="7.1" fill="#ffe600"/><rect x="126.2" y="71.9" width="25.3" height="7.1" fill="#ffc500"/><rect x="126.2" y="65.1" width="25.3" height="7.1" fill="#ffa500"/><rect x="126.2" y="58.3" width="25.3" height="7.1" fill="#ff8400"/><rect x="126.2" y="51.5" width="25.3" height="7.1" fill="#ff6300"/><rect x="126.2" y="44.8" width="25.3" height="7.1" fill="#ff4200"/><rect x="126.2" y="38" width="25.3" height="7.1" fill="#ff2100"/><rect x="126.2" y="31.2" width="25.3" height="7.1" fill="#ff0000"/>
<g font-family='"Liberation Sans", Arial, sans-serif' font-weight="bold" font-size="14.4" fill="#111"><text x="154.6" y="42.1" textLength="64" lengthAdjust="spacingAndGlyphs">2.000e+04</text><text x="154.6" y="76" textLength="64" lengthAdjust="spacingAndGlyphs">1.667e+04</text><text x="154.6" y="109.8" textLength="64" lengthAdjust="spacingAndGlyphs">1.333e+04</text><text x="154.6" y="143.7" textLength="64" lengthAdjust="spacingAndGlyphs">1.000e+04</text><text x="154.6" y="177.6" textLength="64" lengthAdjust="spacingAndGlyphs">6.667e+03</text><text x="154.6" y="211.4" textLength="64" lengthAdjust="spacingAndGlyphs">3.333e+03</text><text x="154.6" y="245.3" textLength="64" lengthAdjust="spacingAndGlyphs">0.000e+00</text></g>
<text x="123.6" y="20.3" font-family='"Liberation Sans", Arial, sans-serif' font-weight="bold" font-size="12.8" fill="#111" textLength="197.2" lengthAdjust="spacingAndGlyphs">Abs(ElectricField-V) (V*cm^-1)</text>
<text x="538.8" y="763.8" text-anchor="middle" font-family='"Liberation Sans", Arial, sans-serif' font-size="31" textLength="40.5" lengthAdjust="spacingAndGlyphs" fill="#000">(a)</text>
<g transform="translate(1145.2,-3.1)">
<clipPath id="devb"><path d="M76,282.9 76.2,282.9 80,282.9 83,282.9 86,282.9 88.9,282.9 91.6,282.9 94,282.9 95.5,282.9 96.9,282.9 98.2,282.9 99.4,282.8 100.5,282.7 101.1,282.6 101.7,282.4 102.2,282.2 102.8,282.1 103.5,281.9 105.2,281.7 107.3,281.5 109.5,281.3 111.7,281 113.8,280.6 115.4,280.1 117,279.6 118.5,279 120.1,278.3 121.6,277.6 123.3,276.8 124.9,275.9 126.6,275 128.3,274.1 130,273.3 131.7,272.5 133.3,271.7 135,271 136.7,270.2 138.5,269.5 140.8,268.6 143.2,267.8 145.6,267 148.1,266.2 150.6,265.5 153,264.8 155.5,264.2 158,263.7 160.4,263.2 162.7,262.8 164.5,262.6 166.1,262.5 167.7,262.4 169.6,262.4 172,262.3 182.7,262.2 197.7,262.1 215,262.1 233.1,262.2 250,262.2 267.6,262.4 286.6,262.8 305,263.1 320.7,263 331.5,262.1 333.7,261.7 335.4,261.2 336.8,260.7 338.1,260 339.5,259.2 341.1,258 342.6,256.5 344,254.9 345.4,253.2 346.8,251.5 348.2,249.8 349.6,248 351,246.3 352.4,244.5 354,242.8 355.8,241.1 357.7,239.3 359.7,237.7 361.7,236.1 363.7,234.5 365.6,233 367.5,231.6 369.5,230.3 371.4,229 373.4,227.7 375.3,226.5 377.2,225.4 379.2,224.3 381.1,223.3 383.1,222.4 385,221.6 387,221 388.9,220.4 390.9,219.8 392.8,219.3 394.7,218.8 396.6,218.2 398.5,217.8 400.4,217.3 402.4,216.9 404.7,216.5 407.1,216.2 409.6,215.9 412.1,215.7 414.5,215.4 452.5,215.4 505.6,215.4 506,214.9 506.5,214.5 506.9,214 507.4,213.5 508,213 509.7,211.7 511.8,210.2 514.2,208.6 516.7,206.9 519.2,205.4 521.9,203.8 524.7,202.1 527.6,200.5 530.6,199 533.7,197.6 537.4,196.3 541.2,195.1 545.2,194.1 549.2,193.2 553.1,192.3 557.1,191.6 561.3,191.1 565.4,190.7 569.2,190.1 572.4,189.4 574,188.9 575.4,188.3 576.6,187.7 577.8,187 579,186.2 580.3,185.2 581.5,184.1 582.7,182.9 583.8,181.6 585,180.3 586.3,178.7 587.6,176.9 589,175.1 590.3,173.3 591.8,171.5 593.5,169.5 595.4,167.6 597.3,165.6 599.3,163.7 601.5,161.8 604.1,159.7 607,157.7 610,155.8 613,153.9 616,152.1 618.8,150.5 621.6,149 624.5,147.5 627.4,146.2 630.5,144.9 634.2,143.6 638,142.4 642,141.4 646,140.4 649.9,139.6 653.7,138.9 657.5,138.3 661.3,137.8 665.2,137.4 669.2,137.1 673.9,136.8 678.7,136.7 683.7,136.7 689.1,136.7 695,136.7 705.9,136.7 718.7,136.8 732.1,136.9 744.6,137.1 755,137.2 759.7,137.2 763.9,137.3 767.7,137.3 771.4,137.4 775.1,137.5 778.4,137.7 781.7,137.9 784.9,138.1 788,138.4 791.2,138.8 794.4,139.3 797.6,139.8 800.8,140.4 804,141.2 807.2,142 810.5,143 813.7,144 816.9,145.2 820.1,146.5 823.3,148 826.6,149.8 830,151.8 833.2,154 836.4,156.2 839.4,158.5 842,160.7 844.5,162.9 846.9,165.2 849.2,167.5 851.4,169.7 853.2,171.7 854.8,173.7 856.3,175.7 857.9,177.5 859.5,179.3 861,180.8 862.6,182.2 864.2,183.5 865.8,184.7 867.5,185.8 869,186.7 870.6,187.5 872.1,188.2 873.8,188.8 875.5,189.4 877.8,189.9 880.3,190.3 882.9,190.6 885.4,190.8 887.6,191 888.9,191.1 890.1,191.1 891.2,191 892.4,191 893.5,191 893.5,665.3 76,665.3Z"/></clipPath>
<g clip-path="url(#devb)">
<rect x="76" y="369.5" width="817.5" height="295.8" fill="#ff0800"/>
<rect x="75" y="338" width="819.5" height="33" fill="#0021ff"/>
<path fill="#0042ff" d="M75.5,338L894.5,338L894.5,340.4L626.5,340.4L624.2,344.5L624.2,345.5L622.2,349L622.2,350L621.7,350.5L621.7,351L619.7,354.5L619.7,355.5L619.2,356L619.5,356.3L622,356.3L622.5,356.8L705,356.8L705.5,357.3L788.5,357.3L789,357.8L872,357.8L872.5,358.3L894.5,358.3L894.5,371L75,371L75,338Z"/>
<path fill="#0063ff" d="M75.5,338L894.5,338L894.5,340.1L278.5,340.2L277.2,342.5L277.2,343L276.7,343.5L276.7,344L276.2,344.5L276.2,345.5L274.2,349L274.2,350L273.7,350.5L273.7,351L271.7,354.5L271.7,355.5L271.2,356L271.5,356.3L274,356.3L274.5,356.8L357,356.8L357.5,357.3L440.5,357.3L441,357.8L524,357.8L524.5,358.3L607,358.3L607.5,358.8L690.5,358.8L691,359.3L774,359.3L774.5,359.8L857,359.8L857.5,360.3L894.5,360.3L894.5,371L75,371L75,338Z"/>
<path fill="#0084ff" d="M75.5,338L405.4,338L405.4,339.5L405,339.9L75,339.9L75,338ZM75.5,364.2L894.5,364.2L894.5,371L75,371L75,364.2Z"/>
<path fill="#00a5ff" d="M75.5,338L405.2,338L405,339.6L75,339.6L75,338ZM75.5,365.6L894.5,365.6L894.5,371L75,371L75,365.6Z"/>
<path fill="#00c5ff" d="M75.5,338L405.1,338L405,339.2L75,339.2L75,338ZM75.5,366.2L894.5,366.2L894.5,371L75,371L75,366.2Z"/>
<path fill="#00e6ff" d="M75.5,366.8L894.5,366.8L894.5,371L75,371L75,366.8Z"/>
<path fill="#00fff7" d="M75.5,367.3L894.5,367.3L894.5,371L75,371L75,367.3Z"/>
<path fill="#00ffd6" d="M75.5,367.7L894.5,367.7L894.5,371L75,371L75,367.7Z"/>
<path fill="#00ffb5" d="M75.5,367.9L894.5,367.9L894.5,371L75,371L75,367.9Z"/>
<path fill="#00ff94" d="M75.5,368.2L894.5,368.2L894.5,371L75,371L75,368.2Z"/>
<path fill="#00ff73" d="M75.5,368.4L894.5,368.4L894.5,371L75,371L75,368.4Z"/>
<path fill="#00ff52" d="M75.5,368.7L894.5,368.7L894.5,371L75,371L75,368.7Z"/>
<path fill="#00ff31" d="M75.5,368.9L894.5,368.9L894.5,371L75,371L75,368.9Z"/>
<path fill="#00ff10" d="M75.5,369.1L894.5,369.1L894.5,371L75,371L75,369.1Z"/>
<path fill="#10ff00" d="M75.5,369.2L894.5,369.2L894.5,371L75,371L75,369.2Z"/>
<path fill="#31ff00" d="M75.5,369.3L894.5,369.3L894.5,371L75,371L75,369.3Z"/>
<path fill="#52ff00" d="M75.5,369.4L894.5,369.4L894.5,371L75,371L75,369.4Z"/>
<path fill="#73ff00" d="M75.5,369.6L894.5,369.6L894.5,371L75,371L75,369.6Z"/>
<path fill="#94ff00" d="M75.5,369.7L894.5,369.7L894.5,371L75,371L75,369.7Z"/>
<path fill="#b5ff00" d="M75.5,369.8L894.5,369.8L894.5,371L75,371L75,369.8Z"/>
<path fill="#d6ff00" d="M75.5,369.9L894.5,369.9L894.5,371L75,371L75,369.9Z"/>
<path fill="#f7ff00" d="M75.5,370L894.5,370L894.5,371L75,371L75,370Z"/>
<path fill="#ffe600" d="M75.5,370.1L894.5,370.1L894.5,371L75,371L75,370.1Z"/>
<path fill="#ffc500" d="M75.5,370.2L894.5,370.2L894.5,371L75,371L75,370.2Z"/>
<path fill="#ffa500" d="M75.5,370.2L894.5,370.2L894.5,371L75,371L75,370.2Z"/>
<path fill="#ff8400" d="M75.5,370.3L894.5,370.3L894.5,371L75,371L75,370.3Z"/>
<path fill="#ff6300" d="M75.5,370.4L894.5,370.4L894.5,371L75,371L75,370.4Z"/>
<path fill="#ff4200" d="M75.5,370.4L894.5,370.4L894.5,371L75,371L75,370.4Z"/>
<path fill="#ff2100" d="M75.5,370.5L894.5,370.5L894.5,371L75,371L75,370.5Z"/>
<path fill="#ff0000" d="M75.5,370.7L894.5,370.7L894.5,371L75,371L75,370.7Z"/>
<rect x="75" y="205" width="340.5" height="134" fill="#0021ff"/>
<path fill="#0042ff" d="M75.5,205L236.7,205L236.7,268L236.1,290L235.9,339L75,339L75,205Z"/>
<path fill="#0063ff" d="M75.5,205L212.9,205L212.9,339L75,339L75,205Z"/>
<path fill="#0084ff" d="M75.5,205L211.5,205L211.5,258L211.2,268L205.2,290L197.8,314L197.8,339L75,339L75,205Z"/>
<path fill="#00a5ff" d="M75.5,205L194.2,205L194.1,264.5L192.2,291L189.9,314L189.9,339L75,339L75,205Z"/>
<path fill="#00c5ff" d="M75.5,205L181.7,205L181.7,290L184.9,314L184.9,339L75,339L75,205Z"/>
<path fill="#00e6ff" d="M75.5,205L166.4,205L166.4,258L168.4,268L176.1,290.5L182.2,313L182.4,339L75,339L75,205Z"/>
<path fill="#00fff7" d="M75.5,205L166.1,205L166.2,259L168.2,268.5L175.6,290L182.1,314L182.1,339L75,339L75,205Z"/>
<path fill="#00ffd6" d="M116.5,205L151.8,205L151.8,258L153.8,268L173.4,314L173.9,339L95.2,339L95.2,314L100.9,291.5L101.3,290L112.3,268L116.3,258L116.3,205Z"/>
<path fill="#00ffb5" d="M118,205L137.3,205L137.3,258L139.3,268L150.5,290L160.6,307.5L165.8,313.5L168.7,318.5L170.8,323.5L172.2,328.5L173.1,335.5L173.2,339L96.2,339L96.3,314L102.7,290L113.9,268L117.9,258L117.9,205Z"/>
<path fill="#00ff94" d="M120,205L135.4,205L135.4,258L137.7,268L149.2,290L158.1,305.5L164,311.6L166.1,314.5L168.5,318.7L170.5,323.5L172,329L172.8,334L172.9,339L97.1,339L97.5,314L104.2,290L115.5,268L119.5,258L119.5,205Z"/>
<path fill="#00ff73" d="M121.5,205L133.6,205L133.6,258L136,268L156.1,304.5L159.9,307.5L162.8,310.5L165.5,314L168,318.2L170.1,323L171.6,328L172.5,333.5L172.7,339L98.1,339L98.6,314L105.6,290L117.1,268L121.1,258L121.1,205Z"/>
<path fill="#00ff52" d="M123,205L131.8,205L131.8,258L134.4,268L154.1,303.5L158.4,306.5L161.6,309.5L164.9,313.5L167.5,317.6L169.7,322.5L171.4,328L172.3,333.5L172.6,339L99,339L99.7,314L107.1,290L118.7,268L122.7,258L122.7,205Z"/>
<path fill="#00ff31" d="M124.5,205L129.9,205L129.9,258L132.7,268L152.2,302.5L157.4,306L160.8,309L164.3,313L167,317.1L169.3,322L171.1,327.5L172.1,333L172.4,339L100,339L100.8,314L108.5,290L120.3,268L124.3,258L124.3,205Z"/>
<path fill="#00ff10" d="M126,205L128.1,205L128.1,258L131.1,268L144.1,290L150.2,301.5L151.2,302.5L156.4,305.5L160,308.5L163.7,312.5L166.7,317L169.1,322L171,327.9L172,334L172.2,339L101,339L102,314L109.9,290L121.7,268.5L125.5,259L125.5,205Z"/>
<path fill="#10ff00" d="M126,205L127.2,205L127.2,258L129.5,268L142.7,300L144.5,300.8L146,301L150.5,302.5L156,305.5L158,307L163,312L167,318L168.5,321L169.6,324.5L170,325L171,329L171.2,331L171.5,331.5L171.9,339L106.1,339L106.5,331.5L106.8,331L107,329L108,325L111,318L114.5,312.5L117.1,290L123.9,268L125.7,259.5L125.7,205Z"/>
<path fill="#31ff00" d="M126,205L126.5,205L126.5,258L127.9,268L132.5,290L136.5,302.5L137,303L140.5,303L144,303.4L149.5,305.1L155,308.2L160,312.6L164,318L167.1,324.5L169,331.5L169.5,339L108.5,339L108.7,334L109.5,329L111,324L113.1,319.5L115.6,315.5L119,311.5L122.5,308.5L126.4,306L124.5,290L125.8,268L126,259.5L125.9,205Z"/>
<path fill="#52ff00" d="M135.5,305.5L141.5,305.4L147.5,306.7L153,309.5L158,313.6L162.2,319L165.2,325L167,332L167.5,339L110.5,339L110.8,333L112.2,327L114.4,321.5L117.5,316.5L121.1,312.5L125.5,309.1L130.5,306.7L135.4,305.5Z"/>
<path fill="#73ff00" d="M135.5,306.9L141.5,306.8L147.5,308.2L152.8,311L157.5,315L161.3,320L164.2,326L165.8,332.5L166.2,339L111.8,339L112,333.5L113.2,328L115.1,323L118,318L121.5,314L125.5,310.8L130,308.4L135.1,307Z"/>
<path fill="#94ff00" d="M135,308.5L140.5,308.2L146,309.2L151.5,311.8L156.1,315.5L160,320.4L162.8,326L164.6,332.5L165,339L113,339L113.3,333.5L114.3,328.5L116.3,323.5L118.9,319L122,315.4L126,312.1L130.5,309.8L134.8,308.5Z"/>
<path fill="#b5ff00" d="M138.5,309.5L143,309.8L148,311.4L153,314.4L156.7,318L160.1,323L162.1,327.5L163.4,333L163.8,339L114.2,339L114.4,334L115.8,328L117.9,323L120.9,318.5L124.5,314.9L129,311.9L133,310.3L138.1,309.5Z"/>
<path fill="#d6ff00" d="M135,310.9L140.5,310.6L145.5,311.6L150.5,314L154.9,317.5L158.4,322L161,327.3L162.5,333L162.9,339L115.1,339L115.4,334L116.3,329.5L118,324.9L120.5,320.7L123.5,317.1L127,314.3L130.5,312.4L134.7,311Z"/>
<path fill="#f7ff00" d="M135.5,311.9L140.5,311.7L145.5,312.7L150.2,315L154.4,318.5L157.9,323L160.2,328L161.6,333.5L161.9,339L116.1,339L116.3,334L117.3,329.5L118.8,325.5L121.1,321.5L124,318.1L127.5,315.2L131,313.3L135.2,312Z"/>
<path fill="#ffe600" d="M136,312.9L140.5,312.7L145.5,313.8L149.5,315.8L153.5,319L156.7,323L159.2,328L160.7,333.5L161,339L117,339L117.3,334L118.3,329.5L119.9,325.5L122.3,321.5L125.5,318L128.5,315.8L132.5,313.8L135.7,313Z"/>
<path fill="#ffc500" d="M135.5,313.9L140.5,313.7L145,314.6L149,316.5L153,319.7L156.1,323.5L158.5,328.5L159.9,333.5L160.2,339L117.8,339L118,334.5L118.8,330.5L120.3,326.5L122.5,322.7L125.2,319.5L128.2,317L131.5,315.2L135.2,314Z"/>
<path fill="#ffa500" d="M135,315L139.5,314.5L144,315.2L148.5,317.2L152.1,320L155.4,324L157.7,328.5L159.1,333.5L159.4,339L118.6,339L118.7,335L119.5,331L120.9,327L122.9,323.5L125.4,320.5L128.3,318L131.5,316.1L134.8,315Z"/>
<path fill="#ff8400" d="M137.5,315.5L142,315.6L145.5,316.6L149,318.5L152.9,322L155.4,325.5L157.4,330L158.4,334L158.6,339L119.4,339L119.6,334L120.6,330L122.6,325.5L124.7,322.5L127.5,319.6L130.5,317.6L134,316.1L137.2,315.5Z"/>
<path fill="#ff6300" d="M137.5,316L141.5,316.1L145.5,317.2L149,319.1L152.3,322L155.1,326L157.1,330.5L158.1,335L158.2,339L119.8,339L119.9,335L120.9,330.5L122.3,327L124.5,323.5L127,320.7L130,318.5L133.5,316.8L137.2,316Z"/>
<path fill="#ff4200" d="M136.5,316.5L140.5,316.4L144.5,317.2L148.5,319.3L151.7,322L154.4,325.5L156.4,329.5L157.6,334L157.9,339L120.1,339L120.3,335L121.1,331L122.5,327.5L124.5,324.1L127,321.3L130,318.9L133,317.4L136.5,316.5Z"/>
<path fill="#ff2100" d="M136,317L140,316.7L144,317.5L148,319.4L151.2,322L154,325.5L156,329.5L157.2,334L157.5,339L120.5,339L120.7,335L121.4,331.5L122.6,328L124.5,324.7L126.8,322L129.5,319.7L132.5,318.1L135.9,317Z"/>
<path fill="#ff0000" d="M135.5,317.5L140,317.2L144,317.9L148,319.8L151,322.3L153.6,325.5L155.6,329.5L157,335.1L157.2,339L120.8,339L121,335.1L121.9,331L123,328.1L124.8,325L127,322.3L129.8,320L132.5,318.5L135.5,317.5Z"/>
<rect x="414.5" y="120" width="480" height="149.7" fill="#0021ff"/>
<clipPath id="gb"><rect x="412.5" y="215.4" width="115.0" height="53.79999999999998"/></clipPath>
<g clip-path="url(#gb)">
<rect x="411.5" y="214.4" width="117" height="55.8" fill="#0021ff"/>
<path fill="#0042ff" d="M412.5,214.4L528.5,214.4L528.5,270.4L411.5,270.4L411.5,224.2L412.1,214.4Z"/>
<path fill="#0063ff" d="M435,214.4L528.5,214.4L528.5,270.4L431.6,270.4L434.9,214.4Z"/>
<path fill="#0084ff" d="M435.5,214.4L528.5,214.4L528.5,270.4L431.9,270.4L435.4,214.4ZM527,214.9L526.8,215.4L527,215.9L527.5,216.1L528,215.9L528.2,215.4L528,214.9L527.5,214.7L527,214.9Z"/>
<path fill="#00a5ff" d="M452.5,214.4L523.1,214.4L523.1,216.4L524.2,218.4L526,219.6L528.5,219.7L528.5,270.4L448.8,270.4L452.1,214.4Z"/>
<path fill="#00c5ff" d="M462.5,214.4L521,214.4L521.2,217.4L522.7,219.9L524,220.9L525.5,221.6L528.5,221.8L528.5,270.4L458.7,270.4L462.1,214.4Z"/>
<path fill="#00e6ff" d="M472,214.4L519.3,214.4L519.2,217.9L520.1,219.9L521.3,221.4L523,222.8L524.5,223.5L526.5,224L528.5,223.9L528.5,270.4L468.6,270.4L471.8,214.4Z"/>
<path fill="#00fff7" d="M472.5,214.4L518.6,214.4L518.6,218.9L518.2,220.9L519.3,222.4L521,224L523.5,225.3L526,226L528.5,226L528.5,270.4L468.9,270.4L472.3,214.4Z"/>
<path fill="#00ffd6" d="M493,214.4L517.7,214.4L517.6,221.4L516.7,222.9L514.9,224.9L512,227.1L509.5,228.1L506,228.6L502.5,228.1L502,227.7L501,227.6L499,226.5L496.5,224.3L494.9,222.4L493.8,220.4L492.9,216.4L492.9,214.4ZM524,232.9L528.5,232.7L528.5,270.4L491,270.4L491.5,263.4L493.1,256.9L496,250.8L500,245.2L505,240.5L510.5,236.9L517,234.2L523.7,232.9Z"/>
<path fill="#00ffb5" d="M494.5,214.4L516.7,214.4L516.6,220.4L515,222.9L513,224.8L511,226L508.5,226.8L506,227.1L503.5,226.8L501.5,226.2L499.5,225.1L497.4,223.4L495.9,221.4L495,219.4L494.4,216.9L494.3,214.4ZM525.5,233.9L528.5,233.8L528.5,270.4L492.1,270.4L492.6,263.4L494.3,256.9L497.2,250.9L501.3,245.4L506.3,240.9L512,237.4L518.5,235L525.2,233.9Z"/>
<path fill="#00ff94" d="M496.5,214.4L515.7,214.4L515.5,218.4L514.6,220.4L513.5,221.9L511.9,223.4L510,224.5L508,225.1L506,225.3L504,225.1L502,224.5L500.1,223.4L498.5,221.9L497.4,220.4L496.5,218.4L496.1,216.4L496.1,214.4ZM527,235.4L528.5,235.4L528.5,270.4L493.7,270.4L494.1,263.9L495.8,257.4L498.8,251.4L503,245.9L508,241.6L513.5,238.4L520,236.2L526.6,235.4Z"/>
<path fill="#00ff73" d="M498.5,214.4L513.9,214.4L513.6,217.9L512,220.7L509.5,222.6L508,223.1L506,223.4L504,223.1L502.5,222.6L500,220.7L498.4,217.9L498.1,214.4ZM522.5,237.3L528.5,237L528.5,270.4L495.3,270.4L495.6,264.4L496.9,258.9L499.1,253.9L502.4,248.9L506.5,244.7L511.2,241.4L516.5,238.9L522.1,237.4Z"/>
<path fill="#00ff52" d="M500.5,214.4L511.8,214.4L511.7,216.9L510.5,219.2L508.5,220.8L506,221.3L503.5,220.8L501.5,219.2L500.3,216.9L500.2,214.4ZM523,238.8L528.5,238.5L528.5,270.4L496.8,270.4L497.1,264.9L498.4,259.4L500.6,254.4L503.6,249.9L507.5,245.9L512,242.7L517,240.4L522.6,238.9Z"/>
<path fill="#00ff31" d="M501.5,214.7L501.5,214.4L510.5,214.4L510.5,216.4L509.8,217.9L508.5,219.2L507,219.9L505.5,219.9L504,219.5L502.5,218.3L501.7,216.9L501.5,214.9ZM522.5,241.4L528.5,241L528.5,270.4L499.3,270.4L499.5,265.4L500.7,260.4L502.6,255.9L505.5,251.5L509,247.9L513,245L517.5,242.8L522.5,241.4Z"/>
<path fill="#00ff10" d="M502.5,214.4L509.6,214.4L509.7,215.9L509,217.7L507.5,218.9L506,219.2L504.5,218.9L503,217.7L502.3,215.9L502.4,214.4ZM523.5,244.4L528.5,244.1L528.5,270.4L502.4,270.4L502.6,265.9L503.6,261.4L505.3,257.4L508,253.4L511,250.3L515,247.4L519,245.6L523.5,244.4Z"/>
<path fill="#10ff00" d="M503.5,214.4L509,214.4L509,216.4L508.4,217.4L507.5,218.2L506,218.4L504.5,218.2L503.6,217.4L503,216.4L503,214.4ZM525,247.3L528.5,247.2L528.5,270.4L505.5,270.4L505.7,265.9L506.7,261.9L508.3,258.4L510.8,254.9L513.5,252.2L516.5,250.1L521,248.2L524.5,247.4Z"/>
<path fill="#31ff00" d="M503.5,214.4L508.7,214.4L508.8,215.9L508.4,216.9L507,218.1L506,218.2L505,218.1L503.6,216.9L503.2,215.9L503.3,214.4ZM523.5,250.4L528.5,250L528.5,270.4L508.3,270.4L508.4,266.9L509,263.9L510.1,260.9L512,257.8L514.5,255L517,253L520,251.5L523.3,250.4Z"/>
<path fill="#52ff00" d="M503.5,214.4L508.5,214.4L508.5,216.4L507.5,217.6L506.5,218.1L505.5,218.1L504.5,217.6L503.8,216.9L503.3,215.9L503.3,214.9ZM525,252.9L528.5,252.7L528.5,270.4L511,270.4L511.1,267.4L511.7,264.4L512.9,261.4L514.5,259L516.5,256.9L519,255L522,253.6L524.8,252.9Z"/>
<path fill="#73ff00" d="M504,214.4L508.3,214.4L508.5,215.9L508,216.9L507,217.7L506,217.9L505,217.7L504,216.9L503.5,215.9L503.7,214.4ZM525,254.9L528.5,254.7L528.5,270.4L513,270.4L513.1,267.4L513.6,264.9L514.6,262.4L515.9,260.4L517.8,258.4L520,256.7L522.5,255.5L524.9,254.9Z"/>
<path fill="#94ff00" d="M504,214.4L508.2,214.4L508.4,215.4L508,216.7L507,217.6L506,217.8L505,217.6L504,216.7L503.6,215.4L503.8,214.4ZM525.5,255.8L528.5,255.7L528.5,270.4L514.1,270.4L514.1,267.9L514.5,265.4L515.6,262.9L516.9,260.9L518.5,259.1L520.5,257.7L523,256.5L525.2,255.9Z"/>
<path fill="#b5ff00" d="M504,214.4L508,214.4L508.2,215.4L508,216.4L507,217.4L505.5,217.6L504,216.4L503.8,214.9ZM526,256.8L528.5,256.8L528.5,270.4L515.1,270.4L515.1,267.9L515.6,265.4L516.5,263.4L517.8,261.4L519.5,259.7L521.3,258.4L523.5,257.4L525.5,256.9Z"/>
<path fill="#d6ff00" d="M504,214.9L504.2,214.4L507.8,214.4L508,215.9L507,217.2L505.5,217.4L504.2,216.4L504,214.9ZM526,257.9L528.5,257.8L528.5,270.4L516.1,270.4L516.2,267.9L516.6,265.9L518.5,262.2L521.6,259.4L523.5,258.5L525.9,257.9Z"/>
<path fill="#f7ff00" d="M504.5,214.4L507.6,214.4L507.9,215.4L507.6,216.4L507,217L506,217.3L505,217L504.4,216.4L504.1,215.4L504.4,214.4ZM525.5,258.9L528.5,258.7L528.5,270.4L517,270.4L517.3,266.4L519,263L521.7,260.4L525.3,258.9Z"/>
<path fill="#ffe600" d="M504.5,214.5L507.4,214.4L507.7,215.9L506.9,216.9L505.5,217.1L504.5,216.3L504.3,214.9ZM525,259.8L528.5,259.5L528.5,270.4L517.8,270.4L518,266.9L519.3,263.9L521.5,261.5L524.6,259.9Z"/>
<path fill="#ffc500" d="M504.5,214.9L504.8,214.4L507.2,214.4L507.5,214.9L507.5,215.9L506.5,216.9L505.5,216.9L504.5,215.9L504.5,214.9ZM526,260.4L528.5,260.3L528.5,270.4L518.6,270.4L518.8,266.9L520.3,263.9L522.5,261.8L525.8,260.4Z"/>
<path fill="#ffa500" d="M505,214.4L507,214.4L507.4,215.4L507.3,215.9L506.5,216.7L505.5,216.7L504.7,215.9L504.7,214.9ZM526.5,260.7L528.5,260.7L528.5,270.4L519.1,270.4L519.3,266.9L520.9,263.9L523.5,261.7L526,260.9Z"/>
<path fill="#ff8400" d="M505,214.8L505.4,214.4L506.6,214.4L507.1,214.9L507.1,215.9L506.5,216.5L505.5,216.5L504.9,215.9L504.9,214.9ZM525,261.3L528.5,261L528.5,270.4L519.3,270.4L519.4,267.4L520.4,264.9L522.5,262.6L524.8,261.4Z"/>
<path fill="#ff6300" d="M505.5,214.6L506,214.5L506.8,214.9L506.9,215.4L506.5,216.2L506,216.3L505.2,215.9L505.2,214.9ZM525.5,261.4L528.5,261.2L528.5,270.4L519.5,270.4L519.6,267.4L520.6,264.9L522.5,262.8L525.3,261.4Z"/>
<path fill="#ff4200" d="M506,214.7L506.5,214.9L506.7,215.4L506.5,215.9L506,216.1L505.5,215.9L505.3,215.4L505.5,214.9ZM526.5,261.3L528.5,261.3L528.5,270.4L519.7,270.4L519.8,267.4L521,264.7L523.4,262.4L526.1,261.4Z"/>
<path fill="#ff2100" d="M506,214.9L506.5,215.4L506,215.9L505.5,215.4ZM525,261.9L528.5,261.5L528.5,270.4L519.8,270.4L519.9,267.9L520.7,265.4L522.5,263.3L524.9,261.9Z"/>
<path fill="#ff0000" d="M506,215.2L506.2,215.4L506,215.6L505.8,215.4ZM525.5,261.9L528.5,261.8L528.5,270.4L520,270.3L520,268.1L521,265.3L523.3,262.9L525.4,261.9Z"/>
</g>
<clipPath id="g2b"><rect x="649" y="215.4" width="146.5" height="53.79999999999998"/></clipPath>
<g clip-path="url(#g2b)">
<rect x="648" y="214.4" width="149" height="55.8" fill="#0021ff"/>
<path fill="#0042ff" d="M648.5,214.4L797,214.4L797,270.4L648,270.4L648,214.4ZM649,214.9L648.5,215.4L649,215.9L649.5,215.4L649,214.9ZM795.5,214.9L795,215.4L795.5,215.9L796,215.4L795.5,214.9Z"/>
<path fill="#0063ff" d="M656,214.4L788.8,214.4L788.8,216.4L789.2,217.9L791,220.4L792.5,221.4L794,222L797,222L797,270.4L648,270.4L648,222.1L650,222.1L651.5,221.7L654,219.9L655.4,217.4L655.7,214.4Z"/>
<path fill="#0084ff" d="M661,214.4L783.8,214.4L783.8,216.9L784.5,219.4L785.7,221.9L787.4,223.9L789.5,225.5L792,226.6L794.5,227.1L797,227.1L797,270.4L648,270.4L648,227.1L650.5,227.1L653,226.4L655.2,225.4L657.1,223.9L658.8,221.9L660,219.4L660.7,216.9L660.7,214.4Z"/>
<path fill="#00a5ff" d="M665.5,214.4L779.1,214.4L779.3,217.9L780.2,221.4L781.7,224.4L784,227.1L786.9,229.4L790,230.9L793.5,231.7L797,231.8L797,270.4L648,270.4L648,231.8L651.5,231.6L655,230.7L658,229.2L660.7,226.9L663,224L664.5,220.9L665.2,217.9L665.4,214.4Z"/>
<path fill="#00c5ff" d="M670.5,214.4L774.4,214.4L774.7,218.9L775.8,222.9L777.8,226.9L780.6,230.4L784,233.1L788,235.1L792.5,236.3L797,236.5L797,270.4L648,270.4L648,236.5L652.5,236.2L656.5,235.1L660.5,233.1L663.9,230.4L666.7,226.9L668.7,222.9L669.8,218.9L670.1,214.4Z"/>
<path fill="#00e6ff" d="M675,214.4L769.7,214.4L770.1,219.9L771.5,224.9L774,229.7L777.5,233.9L781.2,236.9L786,239.4L791.5,240.9L797,241.2L797,270.4L648,270.4L648,241.2L653.5,240.8L658.5,239.4L663.3,236.9L667.5,233.4L670.5,229.7L673,224.9L674.4,219.9L674.8,214.4Z"/>
<path fill="#00fff7" d="M679,214.4L765.8,214.4L766.3,220.9L768,226.7L771,232.3L775,237L780,240.8L786,243.6L789.5,244.5L797,244.2L797,270.4L648,270.4L648,244.2L655,244.5L658.5,243.6L664.5,240.8L669.6,236.9L673.5,232.3L676.5,226.7L678.2,220.9L678.7,214.4Z"/>
<path fill="#00ffd6" d="M648.5,244.8L652,245L655,245.6L658.5,246.8L661.5,248.3L664.5,250.4L667.1,252.9L669.2,255.4L671,258.4L773.5,258.4L775.3,255.4L778,252.2L780.6,249.9L783.5,248L787,246.4L790.2,245.4L793.6,244.9L797,244.9L797,270.4L648,270.4L648,244.8Z"/>
<path fill="#00ffb5" d="M648.5,245.9L653.5,246.4L658,247.7L662,249.9L665.6,252.9L668.5,256.5L670.7,260.9L672,265.4L672.3,270.4L648,270.4L648,246ZM791,246.4L797,246L797,270.4L772.2,270.4L772.5,265.9L773.4,261.9L774.9,258.4L777.1,254.9L780,251.8L783.3,249.4L787,247.5L790.8,246.4Z"/>
<path fill="#00ff94" d="M648.5,247.8L653,248.1L657,249.3L661,251.4L664.5,254.4L667.2,257.9L669.2,261.9L670.2,265.9L670.4,270.4L648,270.4L648,247.8ZM793,247.9L797,247.8L797,270.4L774.1,270.4L774.2,266.4L775.2,262.4L776.7,258.9L779.1,255.4L782,252.5L785.5,250.2L789,248.8L793,247.9Z"/>
<path fill="#00ff73" d="M648.5,249.6L652.5,249.9L656.5,251.1L660,252.9L663,255.4L665.5,258.6L667.4,262.4L668.4,266.4L668.6,270.4L648,270.4L648,249.6ZM792,249.9L797,249.6L797,270.4L775.9,270.4L776,266.9L776.8,263.4L778,260.3L780,257.2L782.5,254.5L785.4,252.4L788.5,250.9L791.9,249.9Z"/>
<path fill="#00ff52" d="M649,251.4L652.5,251.7L656,252.8L659,254.5L662,257L664.2,259.9L665.8,263.4L666.7,266.9L666.8,270.4L648,270.4L648,251.4L648.9,251.4ZM795.5,251.4L797,251.5L797,270.4L777.7,270.4L777.8,266.9L778.7,263.4L780.3,259.9L782.5,257L785.5,254.5L788.5,252.8L792,251.7L795.4,251.4Z"/>
<path fill="#00ff31" d="M648.5,253.3L652,253.6L655,254.5L658,256.1L660.5,258.2L662.6,260.9L664,263.9L664.7,266.9L664.9,270.4L648,270.4L648,253.3ZM794,253.4L797,253.4L797,270.4L779.6,270.4L779.7,267.4L780.3,264.4L781.6,261.4L783.4,258.9L785.5,256.8L788,255.2L791,253.9L793.7,253.4Z"/>
<path fill="#00ff10" d="M648.5,255.3L651.5,255.5L654,256.2L656.5,257.4L659,259.5L660.9,261.9L662.1,264.4L662.8,267.4L662.9,270.4L648,270.4L648,255.3ZM793.5,255.4L797,255.3L797,270.4L781.6,270.4L781.6,267.9L782.1,265.4L783.1,262.9L784.5,260.6L786.5,258.5L788.5,257.1L791,256L793.4,255.4Z"/>
<path fill="#10ff00" d="M648.5,257.1L652,257.5L654,258.2L655.5,259L657.8,260.9L659.3,262.9L660.3,264.9L660.9,266.9L661,270.4L648,270.4L648,257.1ZM793.5,257.3L797,257.2L797,270.4L783.5,270.4L783.7,266.4L784.6,263.9L786.3,261.4L789.5,258.7L792,257.6L793.2,257.4Z"/>
<path fill="#31ff00" d="M648.5,257.9L651,258.1L653,258.7L655.4,259.9L657.1,261.4L658.7,263.4L659.6,265.4L660.2,267.9L660.2,270.4L648,270.4L648,258ZM792.5,258.3L794.5,258L797,258L797,270.4L784.3,270.4L784.6,266.4L786.2,262.9L789,260L792.3,258.4Z"/>
<path fill="#52ff00" d="M648.5,258.7L651,258.8L653,259.4L655,260.5L656.6,261.9L658.1,263.9L659,265.9L659.5,267.9L659.5,270.4L648,270.4L648,258.7ZM793.5,258.8L797,258.8L797,270.4L785,270.4L785.3,266.4L787,263L789.7,260.4L793.3,258.9Z"/>
<path fill="#73ff00" d="M649,259.4L651,259.6L653,260.2L655,261.4L656.5,262.9L657.6,264.4L658.4,266.4L658.8,268.4L658.7,270.4L648,270.4L648,259.4L648.5,259.4ZM795.5,259.4L797,259.5L797,270.4L785.8,270.4L785.7,268.4L786.1,266.4L786.9,264.4L788,262.9L791,260.5L793,259.7L795,259.4Z"/>
<path fill="#94ff00" d="M648.5,260.1L650.5,260.2L652.5,260.8L655.5,262.9L656.7,264.4L657.6,266.4L658,268.4L658,270.4L648,270.4L648,260.2ZM793.5,260.3L797,260.2L797,270.4L786.5,270.4L786.7,266.9L788,264.1L790.5,261.6L793.3,260.4Z"/>
<path fill="#b5ff00" d="M648.5,260.8L652,261.3L653.5,262.1L655.1,263.4L656.3,264.9L657.1,266.9L657.4,270.4L648,270.4L648,260.8ZM794.5,260.8L797,260.9L797,270.4L787.1,270.4L787.4,266.9L788.9,263.9L791.5,261.8L794.1,260.9Z"/>
<path fill="#d6ff00" d="M648.5,261.2L652,261.8L653.5,262.6L655,263.9L656.7,266.9L656.9,270.4L648,270.4L648,261.3ZM794,261.3L797,261.3L797,270.4L787.6,270.4L787.7,267.4L789,264.5L791,262.6L793.7,261.4Z"/>
<path fill="#f7ff00" d="M648.5,261.6L650.5,261.8L652,262.2L654.5,264L656.2,266.9L656.5,268.4L656.5,270.4L648,270.4L648,261.7ZM793.5,261.9L795,261.6L797,261.8L797,270.4L788,270.4L788,267.9L789,265.3L791,263.1L793.5,261.9Z"/>
<path fill="#ffe600" d="M648.5,262.1L651.5,262.5L653,263.3L654.3,264.4L655.4,265.9L655.9,267.4L656.1,270.4L648,270.4L648,262.1ZM793.5,262.3L795,262.1L797,262.2L797,270.4L788.4,270.4L788.5,267.9L789.4,265.4L791,263.6L793.2,262.4Z"/>
<path fill="#ffc500" d="M648.5,262.4L651.5,262.9L654,264.7L655.4,266.9L655.7,268.9L655.6,270.4L648,270.4L648,262.5ZM793.5,262.8L795,262.4L797,262.6L797,270.4L788.9,270.4L788.9,267.9L789.6,265.9L791,264.2L793.1,262.9Z"/>
<path fill="#ffa500" d="M648.5,262.7L651.5,263.2L653.8,264.9L655.3,267.4L655.4,270.4L648,270.4L648,262.8ZM794.5,262.8L797,262.9L797,270.4L789.1,270.4L789.2,267.4L790.2,265.4L792,263.7L794.2,262.9Z"/>
<path fill="#ff8400" d="M648.5,263L651,263.2L653.6,264.9L654.6,266.4L655.2,267.9L655.2,270.4L648,270.4L648,263ZM793.5,263.2L795.5,262.9L797,263.1L797,270.4L789.3,270.4L789.3,268.4L789.9,266.4L791.5,264.4L793.1,263.4Z"/>
<path fill="#ff6300" d="M648.5,263.1L651,263.4L653.5,265.1L654.8,267.4L655,270.4L648,270.4L648,263.2ZM794,263.3L797,263.3L797,270.4L789.5,270.4L789.5,267.9L790.4,265.9L791.7,264.4L793.6,263.4Z"/>
<path fill="#ff4200" d="M648.5,263.3L651,263.6L653.5,265.3L654.8,267.9L654.8,270.4L648,270.4L648,263.4ZM794.5,263.4L797,263.5L797,270.4L789.7,270.4L789.7,267.9L790.6,265.9L792,264.4L794.3,263.4Z"/>
<path fill="#ff2100" d="M648.5,263.5L651,263.8L653.3,265.4L654.6,267.9L654.6,270.4L648,270.4L648,263.6ZM793.5,263.8L795.5,263.5L797,263.6L797,270.4L789.9,270.4L789.8,268.4L790.5,266.4L791.7,264.9L793.3,263.9Z"/>
<path fill="#ff0000" d="M648.5,263.8L650.8,263.9L653.1,265.4L654.1,266.9L654.5,268.2L654.3,270.4L648,270.4L648,263.8ZM794,263.8L797,263.8L797,270.4L790.2,270.4L790,270.2L790,268.4L790.5,266.7L791.9,264.9L793.7,263.9Z"/>
</g>
<clipPath id="bb"><path d="M142.6,338 142.6,334 143.2,330 145.5,325.5 149,321.5 153.5,318.3 158,316.7 162,316.3 381.5,316.3 384,315.2 385,312.5 385,293 385.8,286 388,280.5 391.5,275.5 396,272 400.5,270 404,269.3 893.5,269.3 893.5,338.5 142.6,338.5Z"/></clipPath>
<g clip-path="url(#bb)">
<rect x="141" y="268" width="753.5" height="71" fill="#0021ff"/>
<path fill="#0042ff" d="M141.5,268L172,268L172,320.5L170.5,321.1L164.5,320.4L160.5,320.7L156.2,322L154.3,323L153,324L153,324.2L389,324.2L389.3,323.5L389.3,288.5L393.3,288L394.1,284L395.1,282L396.5,280.3L399.5,278.1L402,277.2L404,277L404.3,279.5L404.5,286.3L444.9,268L894.5,268L894.5,339L141,339L141,268Z"/>
<path fill="#0063ff" d="M141.5,268L169.5,268L169.5,319L169,319.5L168,319.7L161,320.1L156.5,321.4L154,322.8L152,324.3L149.9,326.5L150,327.1L393,327.1L393.3,327L393.4,326.5L393.4,288.5L397.7,288L398.5,285L400,283L402,281.8L404,281.4L404.4,288.5L404.5,297L468.3,268L894.5,268L894.5,339L141,339L141,268Z"/>
<path fill="#0084ff" d="M141.5,268L166.9,268L166.9,318.5L159,320.1L155,321.7L152.5,323.4L150.5,325.3L148.4,328L148.5,328.4L149,328.4L396,328.4L396.5,328L396.5,288.5L400.9,288L401.3,286.5L402,285.6L404,284.6L404.3,288.5L404.5,302.3L480,268L894.5,268L894.5,339L141,339L141,268Z"/>
<path fill="#00a5ff" d="M141.5,268L164.4,268L164.4,318L157,320.3L153.5,322.2L151.5,323.7L149.4,326L147.7,328.5L147.5,329.6L398.5,329.6L399,329.5L399,288.5L403.5,288L404,287.3L404.3,288.5L404.5,307.9L484.5,271.6L484.7,268L626.7,268L626,269.6L625.8,271L626.5,273.8L628.5,276.1L630.6,277L632,277.2L633.4,277L635.5,276.1L637.5,273.8L638.2,271L638,269.6L637.3,268L804.5,268L804.9,269L804.4,269.5L804.4,272L803.5,273.5L803.5,274.5L805,275.5L807,275.9L809,275.5L809.8,275L811.5,273L811.8,270.5L811.5,269L810.8,268L894.5,268L894.5,339L141,339L141,268Z"/>
<path fill="#00c5ff" d="M141.5,268L161.8,268L161.8,318L156,320.2L152,322.8L148.2,327L146.8,329.5L146.7,330L147,330.2L400.5,330.2L401.1,330L401.1,288.5L404,288.1L404.2,288.5L404.5,312.8L484.5,276.5L484.9,268L625.7,268L625.2,269.5L625,271.5L625.9,274.5L627,275.9L628.5,277.1L630,277.7L632,278L634,277.7L635.5,277.1L636.9,276L638.1,274.5L638.7,273L639,271L638.3,268L665,268L665,282.5L665.5,283L665,283.5L665,339L141,339L141,268ZM787,268L804.3,268L804.6,269L804.3,269.5L804.3,272L803.3,273.5L803.3,274L800.5,276.9L800,276.9L799.3,277.5L800.8,280L800.8,282.5L801.3,283L800.8,283.5L800.8,286L799.3,288.5L799.3,289L798.3,290L798.3,290.5L795,293.3L794.5,293.3L793,294.3L790.5,294.8L790,295.3L786.5,295.3L786,295.8L785.5,295.3L782,295.3L781.5,294.8L779,294.3L777.5,293.3L777,293.3L775.5,291.8L774.5,291.3L772.7,289L772.7,288.5L771.2,286L771.2,283.5L770.7,283L771.2,282.5L771.2,280L772.7,277.5L772.7,277L774.5,274.7L775.5,274.2L777,272.7L777.5,272.7L779,271.7L780,271.7L780.5,271.2L781.5,271.2L782,270.7L785.5,270.7L786,270.2L786.5,270.7L786.6,269.5L786.4,269L786.6,268Z"/>
<path fill="#00e6ff" d="M141.5,268L158.3,268L158.3,318L158.1,318.5L153,321.3L149.5,324.5L147.9,326.5L146.5,329L145.9,330.5L146.5,330.9L402,330.9L402.9,330.5L402.9,288.5L404.1,288.5L404.2,310.5L404.5,317.1L465.2,289.5L484.5,289.1L484.8,289.5L485,339L141,339L141,268ZM519,268L536.3,268L536.3,272L535.3,273.5L535.3,274L533.5,276L533.4,276.5L535.2,279.5L535.8,282L535.6,285L534.7,287.5L532.5,290.5L529.5,292.7L526,294L522,294.5L517,293.7L514.5,292.7L512.7,291.5L511,290L509.5,288L508.6,286L508.2,284L508.5,280.5L509.8,277.5L511.5,275.5L513.5,273.9L516,272.6L518.5,271.8L518.7,268ZM640.5,268L657.8,268L657.8,272L657.3,272.5L657,273.9L660.6,276L662,277.5L663.2,279.5L663.9,281.5L663.9,284L663.2,286.5L662,288.5L660,290.4L657.5,291.9L655,292.7L652,293L648.5,292.6L645,291.1L642.4,289L640.8,286.5L640.1,284L640.3,281L641,279L643,276L641.2,274L641.2,273.5L640.2,272L640.2,268ZM787,268L804.2,268L804.3,269L804.1,272L803.2,273.5L803.2,274L800.5,276.7L800,276.7L798.5,278L799.5,280.5L799.8,283.5L799.2,286.5L797.8,289L795.5,291.4L792.9,293L789.5,294.2L786,294.5L783,294.3L780.5,293.6L778,292.4L776,291L774.2,289L773,287L772.4,285L772.2,282.5L773,279L774.2,277L775.5,275.5L778,273.6L780.5,272.4L783.5,271.7L786.5,271.5L786.8,270.5L786.8,268Z"/>
<path fill="#00fff7" d="M141.5,268L152.3,268L152.3,320.5L152.1,321L148.7,324.5L146.9,327L145.4,330L145,331.5L404,331.5L404.2,331L404.2,322L404.5,321.2L474.1,289.5L484.5,289.4L484.5,331.5L484.9,333L485,339L141,339L141,268ZM519,268L536,268L536,272L535,274L532.5,276.5L529.6,278L531,280L531.6,282L531.5,284.5L530.7,286.5L529.1,288.5L527,289.9L524.5,290.8L522,291.1L518.5,290.5L515.6,289L513.5,286.8L512.4,284L512.6,281L513.3,279.5L514.4,278L517,276.1L520.5,275L519,272L519,268ZM640.5,268L657.5,268L657.5,272L657,272.5L656.5,274L654.7,276L655,276.5L657.8,278L659.2,279.5L660.3,282L660.2,284.5L659,286.8L657.2,288.5L654.5,289.7L652,290L649.5,289.7L647.5,288.9L645.6,287.5L644.4,286L643.7,284L643.7,282L644.5,279.9L646.2,278L645.5,277.2L644,276.5L641.5,274L640.5,272L640.5,268ZM787,268L804,268L804,272L803,273.5L803,274L800.5,276.5L797,278L794.5,278.2L794,278.5L795.4,281L795.6,283.5L795,286L793.6,288L792,289.3L790,290.3L786,291.1L782,290.3L778.9,288.5L777.6,287L776.8,285.5L776.4,282.5L776.8,280.5L777.6,279L780.3,276.5L784,275.1L786.5,275L788.5,275.2L788.7,275L787,272L787,268Z"/>
<path fill="#00ffd6" d="M521.5,268L533.9,268L533.7,271L532.5,273.3L530.4,275L527.5,275.7L524.6,275L522.5,273.3L521.3,271L521.1,268ZM643,268L655.4,268L655.2,271L654,273.3L651.9,275L649,275.7L646.1,275L644,273.3L642.8,271L642.6,268ZM789.5,268L801.9,268L801.7,271L800.5,273.3L798.4,275L795.5,275.7L792.6,275L790.5,273.3L789.3,271L789.1,268ZM141.5,331.7L484.5,331.8L484.9,333.5L484.9,339L141,339L141,331.7Z"/>
<path fill="#00ffb5" d="M523,268L532.3,268L532.2,270.5L531.1,272.5L529.5,273.7L527.5,274.1L525.5,273.7L523.9,272.5L522.8,270.5L522.7,268ZM644.5,268L653.8,268L653.7,270.5L652.6,272.5L651,273.7L649,274.1L647,273.7L645.4,272.5L644.3,270.5L644.2,268ZM791,268L800.3,268L800.2,270.5L799.1,272.5L797.5,273.7L795.5,274.1L793.5,273.7L791.9,272.5L790.8,270.5L790.7,268ZM141.5,332.1L484.5,332.1L484.9,335L484.9,339L141,339L141,332.1Z"/>
<path fill="#00ff94" d="M523.5,268L531.8,268L531.9,270L531,272L529.5,273.2L527.5,273.7L525.5,273.2L524,272L523.1,270L523.2,268ZM645,268L653.3,268L653.4,270L652.5,272L651,273.2L649,273.7L647,273.2L645.5,272L644.6,270L644.7,268ZM791.5,268L799.8,268L799.9,270L799,272L797.5,273.2L795.5,273.7L793.5,273.2L792,272L791.1,270L791.2,268ZM141.5,332.3L484.5,332.3L484.9,335L484.9,339L141,339L141,332.3Z"/>
<path fill="#00ff73" d="M523.5,268.5L523.6,268L531.4,268L531.5,270L530.8,271.5L529.9,272.5L528.5,273.1L527,273.2L525.5,272.7L524.2,271.5L523.5,270L523.5,268.5ZM645,268.5L645.1,268L652.9,268L653,270L652.3,271.5L651.4,272.5L650,273.1L648.5,273.2L647,272.7L645.7,271.5L645,270L645,268.5ZM791.5,268.5L791.6,268L799.4,268L799.5,270L798.8,271.5L797.9,272.5L796.5,273.1L795,273.2L793.5,272.7L792.2,271.5L791.5,270L791.5,268.5ZM141.5,332.6L484.5,332.6L484.9,335.5L484.9,339L141,339L141,332.6Z"/>
<path fill="#00ff52" d="M524,268.1L531,268L531.1,270L530.5,271.3L529.5,272.3L528.5,272.7L527,272.8L525.5,272.3L524.5,271.3L523.9,270L523.9,268.5ZM645.5,268.1L652.5,268L652.6,270L652,271.3L651,272.3L650,272.7L648.5,272.8L647,272.3L646,271.3L645.4,270L645.4,268.5ZM792,268.1L799,268L799.1,270L798.5,271.3L797.5,272.3L796.5,272.7L795,272.8L793.5,272.3L792.5,271.3L791.9,270L791.9,268.5ZM141.5,332.9L484.5,332.9L484.9,335.5L484.9,339L141,339L141,332.9Z"/>
<path fill="#00ff31" d="M524.5,268L530.6,268L530.8,269.5L530.2,271L529,272.1L527.5,272.5L526,272.1L524.8,271L524.2,269.5L524.4,268ZM646,268L652.1,268L652.3,269.5L651.7,271L650.5,272.1L649,272.5L647.5,272.1L646.3,271L645.7,269.5L645.9,268ZM792.5,268L798.6,268L798.8,269.5L798.2,271L797,272.1L795.5,272.5L794,272.1L792.8,271L792.2,269.5L792.4,268ZM141.5,333.2L484.5,333.2L484.9,335.5L484.9,339L141,339L141,333.2Z"/>
<path fill="#00ff10" d="M525,268L530.1,268L530.4,269.5L530,270.6L529,271.7L527.5,272.1L526,271.7L525,270.6L524.6,269.5L524.9,268ZM646.5,268L651.6,268L651.9,269.5L651.5,270.6L650.5,271.7L649,272.1L647.5,271.7L646.5,270.6L646.1,269.5L646.4,268ZM793,268L798.1,268L798.4,269.5L798,270.6L797,271.7L795.5,272.1L794,271.7L793,270.6L792.6,269.5L792.9,268ZM141.5,333.4L484.5,333.4L484.8,335.5L484.8,339L141,339L141,333.4Z"/>
<path fill="#10ff00" d="M525.5,268L529.6,268L530,269L529.5,270.5L528.5,271.5L527.5,271.6L526.5,271.5L525.5,270.5L525,269L525.4,268ZM647,268L651.1,268L651.5,269L651,270.5L650,271.5L649,271.6L648,271.5L647,270.5L646.5,269L646.9,268ZM793.5,268L797.6,268L798,269L797.5,270.5L796.5,271.5L795.5,271.6L794.5,271.5L793.5,270.5L793,269L793.4,268ZM141.5,333.7L484.5,333.7L484.8,335.5L484.8,339L141,339L141,333.7Z"/>
<path fill="#31ff00" d="M527,268.4L528.1,268.5L528.4,269.5L528,270L527,270L526.6,269.5L526.9,268.5ZM648.5,268.4L649.6,268.5L649.9,269.5L649.5,270L648.5,270L648.1,269.5L648.4,268.5ZM795,268.4L796.1,268.5L796.4,269.5L796,270L795,270L794.6,269.5L794.9,268.5ZM141.5,334L484.5,334L484.8,335.5L484.8,339L141,339L141,334Z"/>
<path fill="#52ff00" d="M141.5,334.2L484.5,334.2L484.8,339L141,339L141,334.2Z"/>
<path fill="#73ff00" d="M141.5,334.4L484.5,334.4L484.8,339L141,339L141,334.4Z"/>
<path fill="#94ff00" d="M141.5,334.6L484.5,334.6L484.7,339L141,339L141,334.6Z"/>
<path fill="#b5ff00" d="M141.5,334.6L484.5,334.6L484.7,339L141,339L141,334.6Z"/>
<path fill="#d6ff00" d="M141.5,334.7L484.5,334.7L484.7,339L141,339L141,334.7Z"/>
<path fill="#f7ff00" d="M141.5,334.8L484.5,334.8L484.7,339L141,339L141,334.8Z"/>
<path fill="#ffe600" d="M141.5,334.9L484.5,334.9L484.7,339L141,339L141,334.9Z"/>
<path fill="#ffc500" d="M141.5,335L484.5,335L484.6,339L141,339L141,335Z"/>
<path fill="#ffa500" d="M141.5,335L484.5,335L484.6,339L141,339L141,335Z"/>
<path fill="#ff8400" d="M141.5,335.1L484.5,335.1L484.6,339L141,339L141,335.1Z"/>
<path fill="#ff6300" d="M141.5,335.2L484.5,335.2L484.6,339L141,339L141,335.2Z"/>
<path fill="#ff4200" d="M141.5,335.3L484.5,335.3L484.6,339L141,339L141,335.3Z"/>
<path fill="#ff2100" d="M141.5,335.3L484.5,335.3L484.5,339L141,339L141,335.3Z"/>
<path fill="#ff0000" d="M141.5,335.4L484.5,335.4L484.5,339L141,339L141,335.4Z"/>
</g>
<clipPath id="cb"><rect x="405.3" y="289.0" width="488.2" height="50.10000000000002"/></clipPath>
<g clip-path="url(#cb)">
<rect x="404.3" y="288" width="490.2" height="51.5" fill="#00fff7"/>
<path fill="#00ffd6" d="M417.3,288L894.8,288L894.8,339.5L404.3,339.5L404.3,298.8L406.8,298.8L409.3,298.3L411.8,297.3L413.8,296L415.3,294.5L416.6,292.5L417.2,290.5L417.3,288Z"/>
<path fill="#00ffb5" d="M420.3,288L894.8,288L894.8,339.5L404.3,339.5L404.3,301L407.3,300.9L410.3,300.3L413.3,299L415.8,297.4L417.6,295.5L419.1,293L419.8,290.5L419.9,288Z"/>
<path fill="#00ff94" d="M422.8,288L894.8,288L894.8,339.5L404.3,339.5L404.3,303.1L407.8,303L411.3,302.2L414.8,300.8L417.5,299L419.8,296.7L421.4,294L422.4,291L422.5,288Z"/>
<path fill="#00ff73" d="M424.8,288L679.2,288L730.7,339.5L404.3,339.5L404.3,304.9L408.3,304.7L412.3,303.8L416.3,302.1L419.3,300L421.7,297.5L423.5,294.5L424.5,291.5L424.7,288ZM761.8,288L796.2,288L797.2,289L797.2,289.5L798.7,292L798.7,293L799.7,294.5L799.7,296L800.2,296.5L800.2,298L800.7,298.5L800.7,301L801.2,301.5L801.2,308.5L800.7,309L800.7,311.5L800.2,312L800.2,313.5L799.7,314L799.7,315.5L798.7,317L798.7,318L798.2,318.5L797.2,321L796.2,322L796.2,322.5L795.2,323.5L795.2,324L790.3,328.9L789.8,328.9L788.8,329.9L788.3,329.9L784.8,331.9L783.3,331.9L782.8,332.4L775.3,332.4L774.8,331.9L773.3,331.9L771.8,330.9L770.8,330.9L769.8,329.9L768.3,329.4L765.8,326.9L765.3,326.9L764.4,326L764.4,325.5L762.4,323.5L762.4,323L761.4,322L761.4,321.5L758.9,317L758.9,316L758.4,315.5L758.4,314.5L757.9,314L757.9,312.5L757.4,312L757.4,310L756.9,309.5L756.9,300.5L757.4,300L757.4,298L757.9,297.5L757.9,296L758.4,295.5L758.9,293L759.4,292.5L759.4,292L759.9,291.5L761.4,288Z"/>
<path fill="#00ff52" d="M426.8,288L678.9,288L730.4,339.5L404.3,339.5L404.3,306.6L408.8,306.4L412.8,305.5L416.8,303.9L420.5,301.5L423.3,298.7L425.3,295.5L426.5,292L426.8,288ZM761.8,288L795.9,288L796.9,289L796.9,289.5L798.4,292L798.4,293L799.4,294.5L799.4,296L799.9,296.5L799.9,298L800.4,298.5L800.4,301L800.9,301.5L800.9,308.5L800.4,309L800.4,311.5L799.9,312L799.9,313.5L799.4,314L799.4,315.5L798.4,317L798.4,318L797.4,319.5L796.9,321L795.9,322L795.9,322.5L794.9,323.5L794.9,324L790.8,328.1L790.3,328.6L789.8,328.6L788.8,329.6L787.3,330.1L785.8,331.1L785.3,331.1L784.8,331.6L783.3,331.6L782.8,332.1L775.3,332.1L774.8,331.6L773.3,331.6L771.8,330.6L770.8,330.6L769.8,329.6L768.3,329.1L765.8,326.6L765.3,326.6L764.7,326L764.7,325.5L762.7,323.5L762.7,323L761.7,322L760.2,318.5L759.2,317L758.7,314.5L758.2,314L758.2,312.5L757.7,312L757.7,310L757.2,309.5L757.2,300.5L757.7,300L757.7,298L758.2,297.5L758.2,296L758.7,295.5L759.2,293L760.2,291.5L761.7,288Z"/>
<path fill="#00ff31" d="M429.3,288L606,288L606,339.5L404.3,339.5L404.3,308.3L409.3,308L413.9,307L418.3,305.1L422.2,302.5L425.1,299.5L427.3,296L428.6,292L428.9,288Z"/>
<path fill="#00ff10" d="M432.3,288L560.2,288L560.2,339.5L404.3,339.5L404.3,311L409.8,310.7L415.3,309.5L420.3,307.3L424.5,304.5L427.9,301L430.4,297L431.9,292.5L432.2,288Z"/>
<path fill="#10ff00" d="M436.8,288L440.8,288L443.3,289.5L443.8,289.5L444.8,290.5L446.3,291L450.3,294L450.8,294L454.8,297.5L455.3,297.5L458.8,301L461.8,304L461.8,304.5L465.3,308.5L465.3,309L467.3,311.5L468.3,314L469.3,315L469.3,315.5L470.3,317L470.3,318L471.8,320.5L472.3,323L472.8,323.5L472.8,324.5L473.3,325L473.3,326.5L473.8,327L473.8,329L474.3,329.5L474.3,331.5L474.8,332L474.8,339.5L404.3,339.5L404.3,314L410.8,314L411.3,313.5L413.3,313.5L413.8,313L415.3,313L415.8,312.5L416.8,312.5L417.3,312L419.8,311.5L420.3,311L422.8,310L425.3,308L425.8,308L427.3,306.5L427.8,306.5L430.8,303.5L430.8,303L432.3,301.5L432.3,301L433.3,300L434.8,297L434.9,296L435.8,294L435.9,291.5L436.3,291L436.4,288Z"/>
<path fill="#31ff00" d="M431.3,303.2L436.3,306.2L441.2,310L445.3,314.1L448.8,318.8L451.4,323.5L453.4,328.5L454.6,334L454.9,339.5L404.3,339.5L404.3,314.1L410.8,314.1L411.3,313.6L413.3,313.6L413.8,313.2L415.3,313.1L415.8,312.7L416.8,312.7L417.3,312.2L419.8,311.7L421.3,310.7L422.8,310.2L425.3,308.3L425.8,308.3L427.3,306.8L427.8,306.8L431.3,303.5Z"/>
<path fill="#52ff00" d="M423.8,309.5L424.8,309.2L425.3,309.4L431.8,313.3L436.1,317L439.5,321L442.3,325.5L444.1,330L445.2,334.5L445.5,339.5L404.3,339.5L404.3,314.2L410.8,314.2L411.3,313.8L413.3,313.8L413.8,313.3L415.3,313.3L415.8,312.8L416.8,312.8L417.3,312.3L419.8,311.9L421.3,310.9L422.8,310.4L423.8,309.5Z"/>
<path fill="#73ff00" d="M417.3,312.5L419.3,312.6L425.3,315.5L429.8,318.8L433.4,322.5L436.2,326.5L438,330.5L439.2,335L439.5,339.5L404.3,339.5L404.3,314.3L410.8,314.4L411.3,313.9L413.3,313.9L413.8,313.4L415.3,313.4L415.8,312.9L416.8,313L417.3,312.5Z"/>
<path fill="#94ff00" d="M404.8,314.5L411.3,314.3L415.8,315.5L421.3,317.8L426,321L430,325L432.8,329.5L434.4,334L435,339.5L404.3,339.5L404.3,314.5Z"/>
<path fill="#b5ff00" d="M405.3,315.5L410.8,316L415.8,317.2L420.8,319.5L425.1,322.5L428.4,326L431.2,330.5L432.6,335L433,339.5L404.3,339.5L404.3,315.5L404.8,315.5Z"/>
<path fill="#d6ff00" d="M404.8,317.2L409.8,317.5L414.8,318.7L419.3,320.7L423.5,323.5L426.8,327L429.3,331L430.6,335L431.1,339.5L404.3,339.5L404.3,317.2Z"/>
<path fill="#f7ff00" d="M404.8,318.4L409.8,318.7L414.3,319.8L418.8,321.8L422.6,324.5L425.8,327.9L428,331.5L429.3,335.5L429.6,339.5L404.3,339.5L404.3,318.4Z"/>
<path fill="#ffe600" d="M404.8,319.3L409.3,319.6L413.8,320.7L418,322.5L421.8,325.1L424.6,328L426.8,331.5L428.2,335.5L428.5,339.5L404.3,339.5L404.3,319.3Z"/>
<path fill="#ffc500" d="M404.8,320.2L409.3,320.5L413.3,321.5L417.3,323.2L420.8,325.6L423.7,328.5L425.9,332L427.1,335.5L427.4,339.5L404.3,339.5L404.3,320.2Z"/>
<path fill="#ffa500" d="M404.8,320.8L409.8,321.2L413.8,322.3L417.8,324.3L420.3,326.1L423.5,329.5L425.1,332L426.4,336L426.7,339.5L404.3,339.5L404.3,320.9Z"/>
<path fill="#ff8400" d="M404.8,321.2L408.8,321.4L413.3,322.5L416.8,324.1L420.3,326.5L423.1,329.5L424.9,332.5L426,336L426.3,339.5L404.3,339.5L404.3,321.2Z"/>
<path fill="#ff6300" d="M404.8,321.5L408.8,321.7L412.8,322.7L416.3,324.2L419.8,326.5L422.7,329.5L424.5,332.5L425.7,336L426,339.5L404.3,339.5L404.3,321.5Z"/>
<path fill="#ff4200" d="M404.8,321.8L408.8,322L412.8,323L416.3,324.5L419.8,326.9L422.3,329.5L424.2,332.5L425.3,336L425.6,339.5L404.3,339.5L404.3,321.8Z"/>
<path fill="#ff2100" d="M404.8,322L408.8,322.3L412.8,323.3L416.3,324.8L419.4,327L421.9,329.5L423.8,332.5L425,336L425.3,339.5L404.3,339.5L404.3,322.1Z"/>
<path fill="#ff0000" d="M404.8,322.3L408.1,322.5L412.5,323.5L416,325L419.3,327.3L421.8,329.9L423.4,332.5L424.8,336.8L425,339.5L404.3,339.5L404.3,322.3Z"/>
</g>
<rect x="527.5" y="265.8" width="121.5" height="3.2" fill="#ff0800"/><rect x="527.5" y="265.6" width="121.5" height="1" fill="#ff9a00" opacity="0.9"/>
<rect x="795.5" y="265.8" width="98" height="3.2" fill="#ff0800"/><rect x="795.5" y="265.6" width="98" height="1" fill="#ff9a00" opacity="0.9"/>
<rect x="142.6" y="335.9" width="262.7" height="2.4" fill="#940000"/>
</g>
<path d="M76,282.9 76.2,282.9 80,282.9 83,282.9 86,282.9 88.9,282.9 91.6,282.9 94,282.9 95.5,282.9 96.9,282.9 98.2,282.9 99.4,282.8 100.5,282.7 101.1,282.6 101.7,282.4 102.2,282.2 102.8,282.1 103.5,281.9 105.2,281.7 107.3,281.5 109.5,281.3 111.7,281 113.8,280.6 115.4,280.1 117,279.6 118.5,279 120.1,278.3 121.6,277.6 123.3,276.8 124.9,275.9 126.6,275 128.3,274.1 130,273.3 131.7,272.5 133.3,271.7 135,271 136.7,270.2 138.5,269.5 140.8,268.6 143.2,267.8 145.6,267 148.1,266.2 150.6,265.5 153,264.8 155.5,264.2 158,263.7 160.4,263.2 162.7,262.8 164.5,262.6 166.1,262.5 167.7,262.4 169.6,262.4 172,262.3 182.7,262.2 197.7,262.1 215,262.1 233.1,262.2 250,262.2 267.6,262.4 286.6,262.8 305,263.1 320.7,263 331.5,262.1 333.7,261.7 335.4,261.2 336.8,260.7 338.1,260 339.5,259.2 341.1,258 342.6,256.5 344,254.9 345.4,253.2 346.8,251.5 348.2,249.8 349.6,248 351,246.3 352.4,244.5 354,242.8 355.8,241.1 357.7,239.3 359.7,237.7 361.7,236.1 363.7,234.5 365.6,233 367.5,231.6 369.5,230.3 371.4,229 373.4,227.7 375.3,226.5 377.2,225.4 379.2,224.3 381.1,223.3 383.1,222.4 385,221.6 387,221 388.9,220.4 390.9,219.8 392.8,219.3 394.7,218.8 396.6,218.2 398.5,217.8 400.4,217.3 402.4,216.9 404.7,216.5 407.1,216.2 409.6,215.9 412.1,215.7 414.5,215.4 452.5,215.4 505.6,215.4 506,214.9 506.5,214.5 506.9,214 507.4,213.5 508,213 509.7,211.7 511.8,210.2 514.2,208.6 516.7,206.9 519.2,205.4 521.9,203.8 524.7,202.1 527.6,200.5 530.6,199 533.7,197.6 537.4,196.3 541.2,195.1 545.2,194.1 549.2,193.2 553.1,192.3 557.1,191.6 561.3,191.1 565.4,190.7 569.2,190.1 572.4,189.4 574,188.9 575.4,188.3 576.6,187.7 577.8,187 579,186.2 580.3,185.2 581.5,184.1 582.7,182.9 583.8,181.6 585,180.3 586.3,178.7 587.6,176.9 589,175.1 590.3,173.3 591.8,171.5 593.5,169.5 595.4,167.6 597.3,165.6 599.3,163.7 601.5,161.8 604.1,159.7 607,157.7 610,155.8 613,153.9 616,152.1 618.8,150.5 621.6,149 624.5,147.5 627.4,146.2 630.5,144.9 634.2,143.6 638,142.4 642,141.4 646,140.4 649.9,139.6 653.7,138.9 657.5,138.3 661.3,137.8 665.2,137.4 669.2,137.1 673.9,136.8 678.7,136.7 683.7,136.7 689.1,136.7 695,136.7 705.9,136.7 718.7,136.8 732.1,136.9 744.6,137.1 755,137.2 759.7,137.2 763.9,137.3 767.7,137.3 771.4,137.4 775.1,137.5 778.4,137.7 781.7,137.9 784.9,138.1 788,138.4 791.2,138.8 794.4,139.3 797.6,139.8 800.8,140.4 804,141.2 807.2,142 810.5,143 813.7,144 816.9,145.2 820.1,146.5 823.3,148 826.6,149.8 830,151.8 833.2,154 836.4,156.2 839.4,158.5 842,160.7 844.5,162.9 846.9,165.2 849.2,167.5 851.4,169.7 853.2,171.7 854.8,173.7 856.3,175.7 857.9,177.5 859.5,179.3 861,180.8 862.6,182.2 864.2,183.5 865.8,184.7 867.5,185.8 869,186.7 870.6,187.5 872.1,188.2 873.8,188.8 875.5,189.4 877.8,189.9 880.3,190.3 882.9,190.6 885.4,190.8 887.6,191 888.9,191.1 890.1,191.1 891.2,191 892.4,191 893.5,191 893.5,191" fill="none" stroke="#1a1a1a" stroke-width="1.15"/>
<path d="M893.5,191 893.5,665.3" fill="none" stroke="#1a1a1a" stroke-width="1.15"/>
<path d="M472.5,215.4 527.5,215.4 527.5,269.2" fill="none" stroke="#000" stroke-width="1.15"/>
<path d="M649,269.2 649,215.4 795.5,215.4 795.5,269.2" fill="none" stroke="#000" stroke-width="1.15"/>
<path d="M142.6,338 142.6,334 143.2,330 145.5,325.5 149,321.5 153.5,318.3 158,316.7 162,316.3 381.5,316.3 384,315.2 385,312.5 385,293 385.8,286 388,280.5 391.5,275.5 396,272 400.5,270 404,269.3 893.5,269.3" fill="none" stroke="#000" stroke-width="1.15"/>
<path d="M405.3,338.5 405.3,289 893.5,289" fill="none" stroke="#000" stroke-width="1.15"/>
<path d="M76,338.7 893.5,338.7" fill="none" stroke="#000" stroke-width="1.0" opacity="0.75"/>
<path d="M81.5,4.6 76,4.6 76,665.3 929,665.3" fill="none" stroke="#303030" stroke-width="1.5"/>
<path d="M76,44H71M76,63.5H73M76,83H73M76,102.6H73M76,122.1H73M76,141.6H71M76,161.1H73M76,180.7H73M76,200.2H73M76,219.7H73M76,239.3H71M76,258.8H73M76,278.3H73M76,297.8H73M76,317.4H73M76,336.9H71M76,356.4H73M76,376H73M76,395.5H73M76,415H73M76,434.5H71M76,454.1H73M76,473.6H73M76,493.1H73M76,512.7H73M76,532.2H71M76,551.7H73M76,571.2H73M76,590.8H73M76,610.3H73M76,629.8H71M77.5,665.3V668.8M126.4,665.3V670.3M175.3,665.3V668.8M224.2,665.3V668.8M273,665.3V668.8M321.9,665.3V668.8M370.8,665.3V670.3M419.7,665.3V668.8M468.6,665.3V668.8M517.4,665.3V668.8M566.3,665.3V668.8M615.2,665.3V670.3M664.1,665.3V668.8M713,665.3V668.8M761.8,665.3V668.8M810.7,665.3V668.8M859.6,665.3V670.3M908.5,665.3V668.8" stroke="#303030" stroke-width="1.4" fill="none"/>
<g font-family='"Liberation Sans", Arial, sans-serif' font-weight="bold" font-size="21.5" fill="#000"><text x="62.7" y="51" text-anchor="end">-6</text><text x="62.7" y="148.6" text-anchor="end">-4</text><text x="62.7" y="246.3" text-anchor="end">-2</text><text x="62.7" y="343.9" text-anchor="end">0</text><text x="62.7" y="441.5" text-anchor="end">2</text><text x="62.7" y="539.2" text-anchor="end">4</text><text x="62.7" y="636.8" text-anchor="end">6</text></g>
<g font-family='"Liberation Sans", Arial, sans-serif' font-weight="bold" font-size="21.8" fill="#000"><text x="126.4" y="695.8" text-anchor="middle" textLength="22" lengthAdjust="spacingAndGlyphs">10</text><text x="370.8" y="695.8" text-anchor="middle" textLength="22" lengthAdjust="spacingAndGlyphs">15</text><text x="615.2" y="695.8" text-anchor="middle" textLength="22" lengthAdjust="spacingAndGlyphs">20</text><text x="859.6" y="695.8" text-anchor="middle" textLength="22" lengthAdjust="spacingAndGlyphs">25</text></g>
<text x="452.1" y="721.5" font-family='"Liberation Sans", Arial, sans-serif' font-weight="bold" font-size="29" textLength="195" lengthAdjust="spacingAndGlyphs">Distance (um)</text>
<text transform="translate(19.1,440.3) rotate(-90)" font-family='"Liberation Sans", Arial, sans-serif' font-weight="bold" font-size="29" textLength="208" lengthAdjust="spacingAndGlyphs">Thickness (um)</text>
<rect x="126.2" y="241.2" width="25.3" height="7.1" fill="#0000ff"/><rect x="126.2" y="234.4" width="25.3" height="7.1" fill="#0021ff"/><rect x="126.2" y="227.7" width="25.3" height="7.1" fill="#0042ff"/><rect x="126.2" y="220.9" width="25.3" height="7.1" fill="#0063ff"/><rect x="126.2" y="214.1" width="25.3" height="7.1" fill="#0084ff"/><rect x="126.2" y="207.3" width="25.3" height="7.1" fill="#00a5ff"/><rect x="126.2" y="200.6" width="25.3" height="7.1" fill="#00c5ff"/><rect x="126.2" y="193.8" width="25.3" height="7.1" fill="#00e6ff"/><rect x="126.2" y="187" width="25.3" height="7.1" fill="#00fff7"/><rect x="126.2" y="180.2" width="25.3" height="7.1" fill="#00ffd6"/><rect x="126.2" y="173.5" width="25.3" height="7.1" fill="#00ffb5"/><rect x="126.2" y="166.7" width="25.3" height="7.1" fill="#00ff94"/><rect x="126.2" y="159.9" width="25.3" height="7.1" fill="#00ff73"/><rect x="126.2" y="153.2" width="25.3" height="7.1" fill="#00ff52"/><rect x="126.2" y="146.4" width="25.3" height="7.1" fill="#00ff31"/><rect x="126.2" y="139.6" width="25.3" height="7.1" fill="#00ff10"/><rect x="126.2" y="132.8" width="25.3" height="7.1" fill="#10ff00"/><rect x="126.2" y="126.1" width="25.3" height="7.1" fill="#31ff00"/><rect x="126.2" y="119.3" width="25.3" height="7.1" fill="#52ff00"/><rect x="126.2" y="112.5" width="25.3" height="7.1" fill="#73ff00"/><rect x="126.2" y="105.7" width="25.3" height="7.1" fill="#94ff00"/><rect x="126.2" y="99" width="25.3" height="7.1" fill="#b5ff00"/><rect x="126.2" y="92.2" width="25.3" height="7.1" fill="#d6ff00"/><rect x="126.2" y="85.4" width="25.3" height="7.1" fill="#f7ff00"/><rect x="126.2" y="78.6" width="25.3" height="7.1" fill="#ffe600"/><rect x="126.2" y="71.9" width="25.3" height="7.1" fill="#ffc500"/><rect x="126.2" y="65.1" width="25.3" height="7.1" fill="#ffa500"/><rect x="126.2" y="58.3" width="25.3" height="7.1" fill="#ff8400"/><rect x="126.2" y="51.5" width="25.3" height="7.1" fill="#ff6300"/><rect x="126.2" y="44.8" width="25.3" height="7.1" fill="#ff4200"/><rect x="126.2" y="38" width="25.3" height="7.1" fill="#ff2100"/><rect x="126.2" y="31.2" width="25.3" height="7.1" fill="#ff0000"/>
<g font-family='"Liberation Sans", Arial, sans-serif' font-weight="bold" font-size="14.4" fill="#111"><text x="154.6" y="42.1" textLength="64" lengthAdjust="spacingAndGlyphs">2.000e+04</text><text x="154.6" y="76" textLength="64" lengthAdjust="spacingAndGlyphs">1.667e+04</text><text x="154.6" y="109.8" textLength="64" lengthAdjust="spacingAndGlyphs">1.333e+04</text><text x="154.6" y="143.7" textLength="64" lengthAdjust="spacingAndGlyphs">1.000e+04</text><text x="154.6" y="177.6" textLength="64" lengthAdjust="spacingAndGlyphs">6.667e+03</text><text x="154.6" y="211.4" textLength="64" lengthAdjust="spacingAndGlyphs">3.333e+03</text><text x="154.6" y="245.3" textLength="64" lengthAdjust="spacingAndGlyphs">0.000e+00</text></g>
<text x="123.6" y="20.3" font-family='"Liberation Sans", Arial, sans-serif' font-weight="bold" font-size="12.8" fill="#111" textLength="197.2" lengthAdjust="spacingAndGlyphs">Abs(ElectricField-V) (V*cm^-1)</text>
</g>
<text x="1674.9" y="759.2" text-anchor="middle" font-family='"Liberation Sans", Arial, sans-serif' font-size="31" textLength="40.5" lengthAdjust="spacingAndGlyphs" fill="#000">(b)</text>
<g transform="matrix(1.0037,0,0,1.0037,566.33,809.95)">
<clipPath id="devc"><path d="M76.7,282.9 80,282.9 83,282.9 86,282.9 88.9,282.9 91.6,282.9 94,282.9 95.5,282.9 96.9,282.9 98.2,282.9 99.4,282.8 100.5,282.7 101.1,282.6 101.7,282.4 102.2,282.2 102.8,282.1 103.5,281.9 105.2,281.7 107.3,281.5 109.5,281.3 111.7,281 113.8,280.6 115.4,280.1 117,279.6 118.5,279 120.1,278.3 121.6,277.6 123.3,276.8 124.9,275.9 126.6,275 128.3,274.1 130,273.3 131.7,272.5 133.3,271.7 135,271 136.7,270.2 138.5,269.5 140.8,268.6 143.2,267.8 145.6,267 148.1,266.2 150.6,265.5 153,264.8 155.5,264.2 158,263.7 160.4,263.2 162.7,262.8 164.5,262.6 166.1,262.5 167.7,262.4 169.6,262.4 172,262.3 182.7,262.2 197.7,262.1 215,262.1 233.1,262.2 250,262.2 267.6,262.4 286.6,262.8 305,263.1 320.7,263 331.5,262.1 333.7,261.7 335.4,261.2 336.8,260.7 338.1,260 339.5,259.2 341.1,258 342.6,256.5 344,254.9 345.4,253.2 346.8,251.5 348.2,249.8 349.6,248 351,246.3 352.4,244.5 354,242.8 355.8,241.1 357.7,239.3 359.7,237.7 361.7,236.1 363.7,234.5 365.6,233 367.5,231.6 369.5,230.3 371.4,229 373.4,227.7 375.3,226.5 377.2,225.4 379.2,224.3 381.1,223.3 383.1,222.4 385,221.6 387,221 388.9,220.4 390.9,219.8 392.8,219.3 394.7,218.8 396.6,218.2 398.5,217.8 400.4,217.3 402.4,216.9 404.7,216.5 407.1,216.2 409.6,215.9 412.1,215.7 414.5,215.4 452.5,215.4 505.6,215.4 506,215 506.4,214.6 506.9,214.2 507.4,213.7 508,213.2 509.8,211.8 512,210 514.6,208.1 517.3,206.2 520,204.5 522.9,203 525.9,201.6 529.1,200.3 532.2,199 535.3,197.9 538.2,196.9 541.1,195.9 544,195 547,194.2 550,193.5 553.2,192.9 556.4,192.4 559.7,192.1 563.2,191.8 567,191.5 572.9,191.3 579.3,191.2 586.1,191.2 593.1,191.3 600,191.3 607.5,191.2 615.3,191.1 623.1,191.1 630.4,191.1 637,191.5 641,191.9 644.7,192.4 648.1,193 651.5,193.7 655,194.5 658.6,195.4 662.3,196.5 665.9,197.6 669.5,198.8 673.1,200 676.6,201.3 680.1,202.7 683.5,204.1 686.9,205.4 690,206.5 692.2,207.2 694.3,207.9 696.4,208.5 698.4,209 700.6,209.5 703,210 705.4,210.4 707.9,210.7 710.5,211 713.4,211.2 717.7,211.4 722.3,211.4 727.3,211.3 733.1,211.2 740,211.2 762.6,211.2 792.3,211.2 826,211.1 860.8,211.1 893.5,211.1 893.5,665.3 76.7,665.3Z"/></clipPath>
<g clip-path="url(#devc)">
<rect x="76.7" y="369.5" width="816.8" height="295.8" fill="#ff0800"/>
<rect x="75.7" y="338" width="818.8" height="33" fill="#0021ff"/>
<path fill="#0042ff" d="M76.2,338L894.7,338L894.7,340.2L545.7,340.2L544.9,341L544.9,341.5L543.9,343L543.9,344L541.4,348.5L541.4,349.5L540.9,350L540.9,350.5L539.4,353L539.4,354L538.4,355.5L538.7,356.3L540.7,356.3L541.2,356.8L624.2,356.8L624.7,357.3L707.2,357.3L707.7,357.8L790.7,357.8L791.2,358.3L874.2,358.3L874.7,358.8L894.7,358.8L894.7,371L75.7,371L75.7,338Z"/>
<path fill="#0063ff" d="M76.2,338L405.6,338L405.6,339.5L405.2,339.9L75.7,339.9L75.7,338ZM76.2,362.5L894.7,362.5L894.7,371L75.7,371L75.7,362.5Z"/>
<path fill="#0084ff" d="M76.2,338L405.5,338L405.2,339.8L75.7,339.8L75.7,338ZM76.2,364.2L894.7,364.2L894.7,371L75.7,371L75.7,364.2Z"/>
<path fill="#00a5ff" d="M76.2,338L405.4,338L405.2,339.6L75.7,339.6L75.7,338ZM76.2,365.6L894.7,365.6L894.7,371L75.7,371L75.7,365.6Z"/>
<path fill="#00c5ff" d="M76.2,338L405.2,338L405.2,339.2L75.7,339.2L75.7,338ZM76.2,366.2L894.7,366.2L894.7,371L75.7,371L75.7,366.2Z"/>
<path fill="#00e6ff" d="M76.2,366.8L894.7,366.8L894.7,371L75.7,371L75.7,366.8Z"/>
<path fill="#00fff7" d="M76.2,367.3L894.7,367.3L894.7,371L75.7,371L75.7,367.3Z"/>
<path fill="#00ffd6" d="M76.2,367.7L894.7,367.7L894.7,371L75.7,371L75.7,367.7Z"/>
<path fill="#00ffb5" d="M76.2,367.9L894.7,367.9L894.7,371L75.7,371L75.7,367.9Z"/>
<path fill="#00ff94" d="M76.2,368.2L894.7,368.2L894.7,371L75.7,371L75.7,368.2Z"/>
<path fill="#00ff73" d="M76.2,368.4L894.7,368.4L894.7,371L75.7,371L75.7,368.4Z"/>
<path fill="#00ff52" d="M76.2,368.7L894.7,368.7L894.7,371L75.7,371L75.7,368.7Z"/>
<path fill="#00ff31" d="M76.2,368.9L894.7,368.9L894.7,371L75.7,371L75.7,368.9Z"/>
<path fill="#00ff10" d="M76.2,369.1L894.7,369.1L894.7,371L75.7,371L75.7,369.1Z"/>
<path fill="#10ff00" d="M76.2,369.2L894.7,369.2L894.7,371L75.7,371L75.7,369.2Z"/>
<path fill="#31ff00" d="M76.2,369.3L894.7,369.3L894.7,371L75.7,371L75.7,369.3Z"/>
<path fill="#52ff00" d="M76.2,369.4L894.7,369.4L894.7,371L75.7,371L75.7,369.4Z"/>
<path fill="#73ff00" d="M76.2,369.6L894.7,369.6L894.7,371L75.7,371L75.7,369.6Z"/>
<path fill="#94ff00" d="M76.2,369.7L894.7,369.7L894.7,371L75.7,371L75.7,369.7Z"/>
<path fill="#b5ff00" d="M76.2,369.8L894.7,369.8L894.7,371L75.7,371L75.7,369.8Z"/>
<path fill="#d6ff00" d="M76.2,369.9L894.7,369.9L894.7,371L75.7,371L75.7,369.9Z"/>
<path fill="#f7ff00" d="M76.2,370L894.7,370L894.7,371L75.7,371L75.7,370Z"/>
<path fill="#ffe600" d="M76.2,370.1L894.7,370.1L894.7,371L75.7,371L75.7,370.1Z"/>
<path fill="#ffc500" d="M76.2,370.2L894.7,370.2L894.7,371L75.7,371L75.7,370.2Z"/>
<path fill="#ffa500" d="M76.2,370.2L894.7,370.2L894.7,371L75.7,371L75.7,370.2Z"/>
<path fill="#ff8400" d="M76.2,370.3L894.7,370.3L894.7,371L75.7,371L75.7,370.3Z"/>
<path fill="#ff6300" d="M76.2,370.4L894.7,370.4L894.7,371L75.7,371L75.7,370.4Z"/>
<path fill="#ff4200" d="M76.2,370.4L894.7,370.4L894.7,371L75.7,371L75.7,370.4Z"/>
<path fill="#ff2100" d="M76.2,370.5L894.7,370.5L894.7,371L75.7,371L75.7,370.5Z"/>
<path fill="#ff0000" d="M76.2,370.7L894.7,370.7L894.7,371L75.7,371L75.7,370.7Z"/>
<rect x="75.7" y="205" width="339.8" height="134" fill="#0021ff"/>
<path fill="#0042ff" d="M76.2,205L236.6,205L236.6,268L236.1,294L235.9,339L75.7,339L75.7,205Z"/>
<path fill="#0063ff" d="M76.2,205L212.9,205L212.9,339L75.7,339L75.7,205Z"/>
<path fill="#0084ff" d="M76.2,205L211.4,205L211.4,258L211.2,268L205.2,290L198,313.5L197.9,339L75.7,339L75.7,205Z"/>
<path fill="#00a5ff" d="M76.2,205L194.2,205L194.2,258L193.9,268L192.3,290.5L190,313.5L189.9,339L75.7,339L75.7,205Z"/>
<path fill="#00c5ff" d="M76.2,205L181.6,205L181.6,290L184.9,314L184.9,339L75.7,339L75.7,205Z"/>
<path fill="#00e6ff" d="M76.2,205L166.5,205L166.5,258.5L168.6,268.5L176,290L182.5,314L182.5,339L75.7,339L75.7,205Z"/>
<path fill="#00fff7" d="M76.2,205L166,205L166,258L168,268L175.7,290.3L181.8,313L182,339L75.7,339L75.7,205Z"/>
<path fill="#00ffd6" d="M116.7,205L151.8,205L151.8,258L153.8,268L173.4,314L173.9,339L95.2,339L95.2,314L101.1,290.5L112.3,268L116.3,258L116.3,205Z"/>
<path fill="#00ffb5" d="M118.2,205L137.3,205L137.3,258L139.3,268L150.5,290L160.2,306.7L165.4,313L169,319L171,324L172.4,329.5L173,333.5L173.1,339L96.2,339L96.3,314L102.7,290L113.9,268L117.9,258L117.9,205Z"/>
<path fill="#00ff94" d="M119.7,205L135.4,205L135.4,258L137.7,268L149.2,290L158.1,305.5L164.3,312L168.4,318.5L170.3,323L171.8,328L172.8,334L172.9,339L97.1,339L97.5,314L104.2,290L115.5,268L119.5,258L119.5,205Z"/>
<path fill="#00ff73" d="M121.2,205L133.6,205L133.6,258L136,268L155.8,304L162.8,310.5L165.5,314L167.9,318L170.1,323L171.6,328L172.5,333.5L172.7,339L98.1,339L98.6,314L105.6,290L117.1,268L121.1,258L121.1,205Z"/>
<path fill="#00ff52" d="M123.2,205L131.8,205L131.8,258L134.4,268L154.2,303.5L158.2,306.4L161.7,309.6L164.7,313.2L167.4,317.5L169.7,322.5L171.4,328L172.3,333.5L172.6,339L99,339L99.7,314L107.1,290L118.7,268L122.7,258L122.7,205Z"/>
<path fill="#00ff31" d="M124.7,205L129.9,205L129.9,258L132.7,268L152.2,302.5L157.2,305.8L160.8,309L164.3,313L167.2,317.5L169.5,322.5L171.2,328L172.1,333L172.4,339L100,339L100.8,314L108.5,290L120.3,268L124.3,258L124.3,205Z"/>
<path fill="#00ff10" d="M126.2,205L128.1,205L128.1,258L131.1,268L143.8,289.5L150.4,302L155.6,305L159.5,308L163.3,312L166.7,317L169.2,322.2L170.8,327L171.8,332.5L172.1,339L101.1,339L101.2,331.5L102.2,313.3L110.2,289.6L122,268L125.7,258.5L125.7,205Z"/>
<path fill="#10ff00" d="M126.2,205L127.2,205L127.2,258L129.5,268L142.7,300L144.2,300.8L146.2,301L146.7,301.4L147.7,301.5L151.7,303L156.7,306L161.7,310.5L165.2,315L166.7,317.5L168.7,321.5L170.2,325.9L170.3,327L170.7,327.5L171.3,332L171.7,333L171.7,339L106.1,339L106.2,334L107.7,326L110.2,319.5L114.6,312L117.1,290L123.9,268L125.9,258.5L125.9,205Z"/>
<path fill="#31ff00" d="M126.2,205L126.5,205L126.5,258L127.9,268L132.5,290L136.7,303L143.2,303.3L149.2,305L154.8,308L159.9,312.5L164,318L167.1,324.5L169,331.5L169.5,339L108.5,339L108.7,334L109.5,329L111,324L113.1,319.5L115.6,315.5L118.7,311.8L122.2,308.7L126.4,306L124.5,290L126.1,258L126.1,205Z"/>
<path fill="#52ff00" d="M135.7,305.5L141.7,305.4L147.7,306.8L153.2,309.6L158.2,313.8L162.2,319L165.2,325.1L167,332L167.5,339L110.5,339L110.8,333L112.2,327L114.4,321.5L117.2,316.9L120.7,312.9L125.2,309.3L130.2,306.8L135.4,305.5Z"/>
<path fill="#73ff00" d="M135.2,307L141.2,306.8L146.8,308L152.2,310.6L157.2,314.7L161,319.5L164,325.5L165.7,332L166.2,339L111.8,339L112,333.5L113.2,328L115.2,322.7L118,318L121.5,314L125.7,310.7L130.2,308.4L135.1,307Z"/>
<path fill="#94ff00" d="M135.2,308.4L140.7,308.2L146.2,309.3L151.7,311.9L156.2,315.6L160.1,320.5L162.8,326L164.6,332.5L165,339L113,339L113.3,333.5L114.3,328.5L116.3,323.5L118.9,319L122.2,315.2L126.2,312L130.2,309.9L134.8,308.5Z"/>
<path fill="#b5ff00" d="M138.2,309.5L143.2,309.9L147.7,311.3L152.2,313.8L156.3,317.5L159.8,322.5L161.9,327L163.4,332.5L163.8,339L114.2,339L114.5,333.5L115.6,328.5L117.6,323.5L120.9,318.5L124.7,314.7L128.7,312.1L133.2,310.3L138.1,309.5Z"/>
<path fill="#d6ff00" d="M135.2,310.9L140.7,310.6L145.7,311.7L150.7,314.1L154.9,317.5L158.4,322L160.9,327L162.5,333L162.9,339L115.1,339L115.4,334L116.3,329.5L118,325L120.3,321L123.2,317.4L126.7,314.5L130.7,312.3L134.7,311Z"/>
<path fill="#f7ff00" d="M135.2,312L140.2,311.7L145.2,312.6L150.2,315L154.2,318.3L157.6,322.5L160,327.5L161.5,333L161.9,339L116.1,339L116.3,334L117.3,329.5L119,325L121.2,321.4L124.2,317.9L127.7,315.1L131.2,313.2L135.2,312Z"/>
<path fill="#ffe600" d="M135.7,313L140.2,312.7L145.2,313.7L149.7,315.9L153.7,319.2L157,323.5L159.4,328.5L160.6,333L161,339L117,339L117.1,335L118,330.5L119.4,326.5L121.9,322L124.7,318.8L127.7,316.3L131.7,314.1L135.7,313Z"/>
<path fill="#ffc500" d="M135.7,313.9L140.7,313.7L145.2,314.7L149.2,316.6L153.2,319.9L156.4,324L158.5,328.5L159.9,333.5L160.2,339L117.8,339L118,334.5L118.8,330.5L120.3,326.5L122.3,323L125.2,319.5L128.2,317L131.7,315.1L135.2,314Z"/>
<path fill="#ffa500" d="M135.2,314.9L139.7,314.5L144.2,315.3L148.2,317L152.2,320.1L155.4,324L157.7,328.5L159.1,333.5L159.4,339L118.6,339L118.7,335L119.5,331L120.9,327L122.9,323.5L125.4,320.5L128.2,318.1L131.2,316.3L134.8,315Z"/>
<path fill="#ff8400" d="M137.7,315.5L141.7,315.6L145.7,316.7L149.2,318.6L152.7,321.8L155.1,325L157.1,329L158.5,334.5L158.7,339L119.3,339L119.4,335.5L120.4,330.5L121.8,327L124.3,323L126.7,320.4L129.7,318.1L133.7,316.2L137.2,315.5Z"/>
<path fill="#ff6300" d="M137.7,315.9L141.7,316.1L145.7,317.3L149.2,319.3L152.3,322L154.9,325.5L156.8,329.5L157.8,333.5L158.2,339L119.8,339L120.1,334L121.1,330L122.6,326.5L124.5,323.5L127.2,320.6L130.2,318.4L133.2,316.9L137.2,316Z"/>
<path fill="#ff4200" d="M136.7,316.5L140.7,316.4L144.7,317.3L148.2,319.1L151.7,322L154.4,325.5L156.4,329.5L157.6,334L157.9,339L120.1,339L120.3,335L121.1,331L122.5,327.5L124.6,324L127.2,321.1L129.9,319L133.2,317.4L136.5,316.5Z"/>
<path fill="#ff2100" d="M136.2,316.9L140.2,316.7L144.2,317.6L147.7,319.2L151.2,322L154,325.5L156,329.5L157.2,334L157.5,339L120.5,339L120.7,335L121.4,331.5L122.7,327.9L124.7,324.5L127.2,321.6L129.7,319.6L132.7,318L135.9,317Z"/>
<path fill="#ff0000" d="M135.7,317.4L140.2,317.2L144.2,318L148.2,320L151.2,322.5L153.9,326L155.8,330L156.8,334L157.1,339L120.9,339L121,335L121.7,331.6L123,328L124.7,325.1L126.7,322.6L129.2,320.4L132.5,318.5L135.5,317.5Z"/>
<rect x="414.5" y="120" width="480" height="149.7" fill="#0021ff"/>
<clipPath id="gc"><rect x="412.5" y="215.4" width="115.0" height="53.79999999999998"/></clipPath>
<g clip-path="url(#gc)">
<rect x="411.5" y="214.4" width="117" height="55.8" fill="#0021ff"/>
<path fill="#0042ff" d="M412.5,214.4L528.5,214.4L528.5,270.4L411.5,270.4L411.5,224.2L412.1,214.4Z"/>
<path fill="#0063ff" d="M435,214.4L528.5,214.4L528.5,270.4L431.6,270.4L434.9,214.4Z"/>
<path fill="#0084ff" d="M435.5,214.4L528.5,214.4L528.5,270.4L431.9,270.4L435.4,214.4ZM527,214.9L526.8,215.4L527,215.9L527.5,216.1L528,215.9L528.2,215.4L528,214.9L527.5,214.7L527,214.9Z"/>
<path fill="#00a5ff" d="M452.5,214.4L523.1,214.4L523.1,216.4L524.2,218.4L526,219.6L528.5,219.7L528.5,270.4L448.8,270.4L452.1,214.4Z"/>
<path fill="#00c5ff" d="M462.5,214.4L521,214.4L521.2,217.4L522.7,219.9L524,220.9L525.5,221.6L528.5,221.8L528.5,270.4L458.7,270.4L462.1,214.4Z"/>
<path fill="#00e6ff" d="M472,214.4L519.3,214.4L519.2,217.9L520.1,219.9L521.3,221.4L523,222.8L524.5,223.5L526.5,224L528.5,223.9L528.5,270.4L468.6,270.4L471.8,214.4Z"/>
<path fill="#00fff7" d="M472.5,214.4L518.6,214.4L518.6,218.9L518.2,220.9L519.3,222.4L521,224L523.5,225.3L526,226L528.5,226L528.5,270.4L468.9,270.4L472.3,214.4Z"/>
<path fill="#00ffd6" d="M493,214.4L517.7,214.4L517.6,221.4L516.7,222.9L514.9,224.9L512,227.1L509.5,228.1L506,228.6L502.5,228.1L502,227.7L501,227.6L499,226.5L496.5,224.3L494.9,222.4L493.8,220.4L492.9,216.4L492.9,214.4ZM524,232.9L528.5,232.7L528.5,270.4L491,270.4L491.5,263.4L493.1,256.9L496,250.8L500,245.2L505,240.5L510.5,236.9L517,234.2L523.7,232.9Z"/>
<path fill="#00ffb5" d="M494.5,214.4L516.7,214.4L516.6,220.4L515,222.9L513,224.8L511,226L508.5,226.8L506,227.1L503.5,226.8L501.5,226.2L499.5,225.1L497.4,223.4L495.9,221.4L495,219.4L494.4,216.9L494.3,214.4ZM525.5,233.9L528.5,233.8L528.5,270.4L492.1,270.4L492.6,263.4L494.3,256.9L497.2,250.9L501.3,245.4L506.3,240.9L512,237.4L518.5,235L525.2,233.9Z"/>
<path fill="#00ff94" d="M496.5,214.4L515.7,214.4L515.5,218.4L514.6,220.4L513.5,221.9L511.9,223.4L510,224.5L508,225.1L506,225.3L504,225.1L502,224.5L500.1,223.4L498.5,221.9L497.4,220.4L496.5,218.4L496.1,216.4L496.1,214.4ZM527,235.4L528.5,235.4L528.5,270.4L493.7,270.4L494.1,263.9L495.8,257.4L498.8,251.4L503,245.9L508,241.6L513.5,238.4L520,236.2L526.6,235.4Z"/>
<path fill="#00ff73" d="M498.5,214.4L513.9,214.4L513.6,217.9L512,220.7L509.5,222.6L508,223.1L506,223.4L504,223.1L502.5,222.6L500,220.7L498.4,217.9L498.1,214.4ZM522.5,237.3L528.5,237L528.5,270.4L495.3,270.4L495.6,264.4L496.9,258.9L499.1,253.9L502.4,248.9L506.5,244.7L511.2,241.4L516.5,238.9L522.1,237.4Z"/>
<path fill="#00ff52" d="M500.5,214.4L511.8,214.4L511.7,216.9L510.5,219.2L508.5,220.8L506,221.3L503.5,220.8L501.5,219.2L500.3,216.9L500.2,214.4ZM523,238.8L528.5,238.5L528.5,270.4L496.8,270.4L497.1,264.9L498.4,259.4L500.6,254.4L503.6,249.9L507.5,245.9L512,242.7L517,240.4L522.6,238.9Z"/>
<path fill="#00ff31" d="M501.5,214.7L501.5,214.4L510.5,214.4L510.5,216.4L509.8,217.9L508.5,219.2L507,219.9L505.5,219.9L504,219.5L502.5,218.3L501.7,216.9L501.5,214.9ZM522.5,241.4L528.5,241L528.5,270.4L499.3,270.4L499.5,265.4L500.7,260.4L502.6,255.9L505.5,251.5L509,247.9L513,245L517.5,242.8L522.5,241.4Z"/>
<path fill="#00ff10" d="M502.5,214.4L509.6,214.4L509.7,215.9L509,217.7L507.5,218.9L506,219.2L504.5,218.9L503,217.7L502.3,215.9L502.4,214.4ZM523.5,244.4L528.5,244.1L528.5,270.4L502.4,270.4L502.6,265.9L503.6,261.4L505.3,257.4L508,253.4L511,250.3L515,247.4L519,245.6L523.5,244.4Z"/>
<path fill="#10ff00" d="M503.5,214.4L509,214.4L509,216.4L508.4,217.4L507.5,218.2L506,218.4L504.5,218.2L503.6,217.4L503,216.4L503,214.4ZM525,247.3L528.5,247.2L528.5,270.4L505.5,270.4L505.7,265.9L506.7,261.9L508.3,258.4L510.8,254.9L513.5,252.2L516.5,250.1L521,248.2L524.5,247.4Z"/>
<path fill="#31ff00" d="M503.5,214.4L508.7,214.4L508.8,215.9L508.4,216.9L507,218.1L506,218.2L505,218.1L503.6,216.9L503.2,215.9L503.3,214.4ZM523.5,250.4L528.5,250L528.5,270.4L508.3,270.4L508.4,266.9L509,263.9L510.1,260.9L512,257.8L514.5,255L517,253L520,251.5L523.3,250.4Z"/>
<path fill="#52ff00" d="M503.5,214.4L508.5,214.4L508.5,216.4L507.5,217.6L506.5,218.1L505.5,218.1L504.5,217.6L503.8,216.9L503.3,215.9L503.3,214.9ZM525,252.9L528.5,252.7L528.5,270.4L511,270.4L511.1,267.4L511.7,264.4L512.9,261.4L514.5,259L516.5,256.9L519,255L522,253.6L524.8,252.9Z"/>
<path fill="#73ff00" d="M504,214.4L508.3,214.4L508.5,215.9L508,216.9L507,217.7L506,217.9L505,217.7L504,216.9L503.5,215.9L503.7,214.4ZM525,254.9L528.5,254.7L528.5,270.4L513,270.4L513.1,267.4L513.6,264.9L514.6,262.4L515.9,260.4L517.8,258.4L520,256.7L522.5,255.5L524.9,254.9Z"/>
<path fill="#94ff00" d="M504,214.4L508.2,214.4L508.4,215.4L508,216.7L507,217.6L506,217.8L505,217.6L504,216.7L503.6,215.4L503.8,214.4ZM525.5,255.8L528.5,255.7L528.5,270.4L514.1,270.4L514.1,267.9L514.5,265.4L515.6,262.9L516.9,260.9L518.5,259.1L520.5,257.7L523,256.5L525.2,255.9Z"/>
<path fill="#b5ff00" d="M504,214.4L508,214.4L508.2,215.4L508,216.4L507,217.4L505.5,217.6L504,216.4L503.8,214.9ZM526,256.8L528.5,256.8L528.5,270.4L515.1,270.4L515.1,267.9L515.6,265.4L516.5,263.4L517.8,261.4L519.5,259.7L521.3,258.4L523.5,257.4L525.5,256.9Z"/>
<path fill="#d6ff00" d="M504,214.9L504.2,214.4L507.8,214.4L508,215.9L507,217.2L505.5,217.4L504.2,216.4L504,214.9ZM526,257.9L528.5,257.8L528.5,270.4L516.1,270.4L516.2,267.9L516.6,265.9L518.5,262.2L521.6,259.4L523.5,258.5L525.9,257.9Z"/>
<path fill="#f7ff00" d="M504.5,214.4L507.6,214.4L507.9,215.4L507.6,216.4L507,217L506,217.3L505,217L504.4,216.4L504.1,215.4L504.4,214.4ZM525.5,258.9L528.5,258.7L528.5,270.4L517,270.4L517.3,266.4L519,263L521.7,260.4L525.3,258.9Z"/>
<path fill="#ffe600" d="M504.5,214.5L507.4,214.4L507.7,215.9L506.9,216.9L505.5,217.1L504.5,216.3L504.3,214.9ZM525,259.8L528.5,259.5L528.5,270.4L517.8,270.4L518,266.9L519.3,263.9L521.5,261.5L524.6,259.9Z"/>
<path fill="#ffc500" d="M504.5,214.9L504.8,214.4L507.2,214.4L507.5,214.9L507.5,215.9L506.5,216.9L505.5,216.9L504.5,215.9L504.5,214.9ZM526,260.4L528.5,260.3L528.5,270.4L518.6,270.4L518.8,266.9L520.3,263.9L522.5,261.8L525.8,260.4Z"/>
<path fill="#ffa500" d="M505,214.4L507,214.4L507.4,215.4L507.3,215.9L506.5,216.7L505.5,216.7L504.7,215.9L504.7,214.9ZM526.5,260.7L528.5,260.7L528.5,270.4L519.1,270.4L519.3,266.9L520.9,263.9L523.5,261.7L526,260.9Z"/>
<path fill="#ff8400" d="M505,214.8L505.4,214.4L506.6,214.4L507.1,214.9L507.1,215.9L506.5,216.5L505.5,216.5L504.9,215.9L504.9,214.9ZM525,261.3L528.5,261L528.5,270.4L519.3,270.4L519.4,267.4L520.4,264.9L522.5,262.6L524.8,261.4Z"/>
<path fill="#ff6300" d="M505.5,214.6L506,214.5L506.8,214.9L506.9,215.4L506.5,216.2L506,216.3L505.2,215.9L505.2,214.9ZM525.5,261.4L528.5,261.2L528.5,270.4L519.5,270.4L519.6,267.4L520.6,264.9L522.5,262.8L525.3,261.4Z"/>
<path fill="#ff4200" d="M506,214.7L506.5,214.9L506.7,215.4L506.5,215.9L506,216.1L505.5,215.9L505.3,215.4L505.5,214.9ZM526.5,261.3L528.5,261.3L528.5,270.4L519.7,270.4L519.8,267.4L521,264.7L523.4,262.4L526.1,261.4Z"/>
<path fill="#ff2100" d="M506,214.9L506.5,215.4L506,215.9L505.5,215.4ZM525,261.9L528.5,261.5L528.5,270.4L519.8,270.4L519.9,267.9L520.7,265.4L522.5,263.3L524.9,261.9Z"/>
<path fill="#ff0000" d="M506,215.2L506.2,215.4L506,215.6L505.8,215.4ZM525.5,261.9L528.5,261.8L528.5,270.4L520,270.3L520,268.1L521,265.3L523.3,262.9L525.4,261.9Z"/>
</g>
<clipPath id="bc"><path d="M142.6,338 142.6,334 143.2,330 145.5,325.5 149,321.5 153.5,318.3 158,316.7 162,316.3 381.5,316.3 384,315.2 385,312.5 385,293 385.8,286 388,280.5 391.5,275.5 396,272 400.5,270 404,269.3 893.5,269.3 893.5,338.5 142.6,338.5Z"/></clipPath>
<g clip-path="url(#bc)">
<rect x="141" y="268" width="753.5" height="71" fill="#0021ff"/>
<path fill="#0042ff" d="M141.5,268L172,268L172,320.5L170.5,321.1L164.5,320.4L160.5,320.7L156.2,322L154.3,323L153,324L153,324.2L389,324.2L389.3,323.5L389.3,288.5L393.3,288L394.1,284L395.1,282L396.5,280.3L399.5,278.1L402,277.2L404,277L404.3,279.5L404.5,286.3L444.9,268L645,268L645.3,270.5L646.5,272.5L648.5,274L651,274.5L653.5,274L655.5,272.5L656.7,270.5L657,268L894.5,268L894.5,339L141,339L141,268Z"/>
<path fill="#0063ff" d="M141.5,268L169.5,268L169.5,319L169,319.5L168,319.7L161,320.1L156.5,321.4L154,322.8L152,324.3L149.9,326.5L150,327.1L393,327.1L393.3,327L393.4,326.5L393.4,288.5L397.7,288L398.5,285L400,283L402,281.8L404,281.4L404.4,288.5L404.5,297L468.3,268L638.3,268L638.4,270.5L639.1,273L640.3,275.5L642,277.5L644,279.2L646,280.2L648.5,281L651,281.2L653.5,281L656,280.2L658,279.2L660,277.5L661.7,275.5L662.9,273L663.6,270.5L663.7,268L894.5,268L894.5,339L141,339L141,268Z"/>
<path fill="#0084ff" d="M141.5,268L166.9,268L166.9,318.5L159,320.1L155,321.7L152.5,323.4L150.5,325.3L148.4,328L148.5,328.4L149,328.4L396,328.4L396.5,328L396.5,288.5L400.9,288L401.3,286.5L402,285.6L404,284.6L404.3,288.5L404.5,302.3L480,268L633.3,268L633.5,271.5L634.5,275L636,278L638.4,281L641,283.2L644,284.8L647.5,285.9L651,286.2L654.5,285.9L658,284.8L661,283.2L663.6,281L666,278L667.5,275L668.5,271.5L668.7,268L894.5,268L894.5,339L141,339L141,268Z"/>
<path fill="#00a5ff" d="M141.5,268L164.4,268L164.4,318L157,320.3L153.5,322.2L151.5,323.7L149.4,326L147.7,328.5L147.5,329.6L398.5,329.6L399,329.5L399,288.5L403.5,288L404,287.3L404.3,288.5L404.5,307.9L484.5,271.6L484.6,268L627.2,268L627.6,273L629,277.5L631.1,281.5L634,285.1L637.5,288.1L641.9,290.5L646.5,291.9L651,292.3L655.5,291.9L660.1,290.5L664.5,288.1L668,285.1L670.9,281.5L673,277.5L674.4,273L674.8,268L894.5,268L894.5,339L141,339L141,268Z"/>
<path fill="#00c5ff" d="M141.5,268L161.8,268L161.8,318L156,320.2L152,322.8L148.2,327L146.8,329.5L146.7,330L147,330.2L400.5,330.2L401.1,330L401.1,288.5L404,288.1L404.2,288.5L404.5,312.8L484.5,276.5L484.7,268L621.7,268L622.2,274L623.8,279.5L626.4,284.5L630,289L634.5,292.8L639.5,295.5L645,297.2L651,297.8L657,297.2L662.5,295.5L667.5,292.8L672,289L675.6,284.5L678.2,279.5L679.8,274L680.3,268L894.5,268L894.5,339L141,339L141,268Z"/>
<path fill="#00e6ff" d="M141.5,268L158.3,268L158.3,318L158.1,318.5L153,321.3L149.5,324.5L147.9,326.5L146.5,329L145.9,330.5L146.5,330.9L402,330.9L402.9,330.5L402.9,288.5L404.1,288.5L404.2,310.5L404.5,317.1L484.5,280.7L484.8,268L541.5,268L541.5,272.5L541,273L540.5,275.5L538.5,278L538.5,339L141,339L141,268Z"/>
<path fill="#00fff7" d="M141.5,268L152.3,268L152.3,320.5L152.1,321L148.7,324.5L146.9,327L145.4,330L145,331.5L404,331.5L404.2,331L404.2,322L404.5,321.2L484.5,284.8L484.9,281L485,268L541.1,268L541.1,272.5L540.6,273L540.1,275.5L539.1,276.5L539.1,277L534.5,281.5L534.5,339L141,339L141,268Z"/>
<path fill="#00ffd6" d="M521,268L534.3,268L534.1,271L532.9,273.5L530.5,275.4L527.5,276.1L524.5,275.4L522.1,273.5L520.9,271L520.7,268ZM141.5,331.7L484.5,331.8L484.9,333L485,339L141,339L141,331.7Z"/>
<path fill="#00ffb5" d="M523,268L532.3,268L532.2,270.5L531.1,272.5L529.5,273.7L527.5,274.1L525.5,273.7L523.9,272.5L522.8,270.5L522.7,268ZM141.5,332.1L484.5,332.1L484.9,333.5L485,339L141,339L141,332.1Z"/>
<path fill="#00ff94" d="M523.5,268L531.8,268L531.9,270L531,272L529.5,273.2L527.5,273.7L525.5,273.2L524,272L523.1,270L523.2,268ZM141.5,332.3L484.5,332.3L484.9,335L484.9,339L141,339L141,332.3Z"/>
<path fill="#00ff73" d="M523.5,268.5L523.6,268L531.4,268L531.5,270L530.8,271.5L529.9,272.5L528.5,273.1L527,273.2L525.5,272.7L524.2,271.5L523.5,270L523.5,268.5ZM141.5,332.6L484.5,332.6L484.9,335L484.9,339L141,339L141,332.6Z"/>
<path fill="#00ff52" d="M524,268.1L531,268L531.1,270L530.5,271.3L529.5,272.3L528.5,272.7L527,272.8L525.5,272.3L524.5,271.3L523.9,270L523.9,268.5ZM141.5,332.9L484.5,332.9L484.9,335.5L484.9,339L141,339L141,332.9Z"/>
<path fill="#00ff31" d="M524.5,268L530.6,268L530.8,269.5L530.2,271L529,272.1L527.5,272.5L526,272.1L524.8,271L524.2,269.5L524.4,268ZM141.5,333.2L484.5,333.2L484.9,335.5L484.9,339L141,339L141,333.2Z"/>
<path fill="#00ff10" d="M525,268L530.1,268L530.4,269.5L530,270.6L529,271.7L527.5,272.1L526,271.7L525,270.6L524.6,269.5L524.9,268ZM141.5,333.4L484.5,333.4L484.9,335.5L484.9,339L141,339L141,333.4Z"/>
<path fill="#10ff00" d="M525.5,268L529.6,268L530,269L529.5,270.5L528.5,271.5L527.5,271.6L526.5,271.5L525.5,270.5L525,269L525.4,268ZM141.5,333.7L484.5,333.7L484.8,335.5L484.8,339L141,339L141,333.7Z"/>
<path fill="#31ff00" d="M527,268.4L528.1,268.5L528.4,269.5L528,270L527,270L526.6,269.5L526.9,268.5ZM141.5,334L484.5,334L484.8,335.5L484.8,339L141,339L141,334Z"/>
<path fill="#52ff00" d="M141.5,334.2L484.5,334.2L484.8,335.5L484.8,339L141,339L141,334.2Z"/>
<path fill="#73ff00" d="M141.5,334.4L484.5,334.4L484.8,335.5L484.8,339L141,339L141,334.4Z"/>
<path fill="#94ff00" d="M141.5,334.6L484.5,334.6L484.8,339L141,339L141,334.6Z"/>
<path fill="#b5ff00" d="M141.5,334.6L484.5,334.6L484.7,339L141,339L141,334.6Z"/>
<path fill="#d6ff00" d="M141.5,334.7L484.5,334.7L484.7,339L141,339L141,334.7Z"/>
<path fill="#f7ff00" d="M141.5,334.8L484.5,334.8L484.7,339L141,339L141,334.8Z"/>
<path fill="#ffe600" d="M141.5,334.9L484.5,334.9L484.7,339L141,339L141,334.9Z"/>
<path fill="#ffc500" d="M141.5,335L484.5,335L484.6,339L141,339L141,335Z"/>
<path fill="#ffa500" d="M141.5,335L484.5,335L484.6,339L141,339L141,335Z"/>
<path fill="#ff8400" d="M141.5,335.1L484.5,335.1L484.6,339L141,339L141,335.1Z"/>
<path fill="#ff6300" d="M141.5,335.2L484.5,335.2L484.6,339L141,339L141,335.2Z"/>
<path fill="#ff4200" d="M141.5,335.3L484.5,335.3L484.5,339L141,339L141,335.3Z"/>
<path fill="#ff2100" d="M141.5,335.3L484.5,335.3L484.5,339L141,339L141,335.3Z"/>
<path fill="#ff0000" d="M141.5,335.4L484.5,335.4L484.5,339L141,339L141,335.4Z"/>
</g>
<rect x="651.8" y="268.2" width="242.7" height="20.8" fill="#0021ff"/>
<clipPath id="cc"><rect x="405.3" y="289.0" width="488.2" height="50.10000000000002"/></clipPath>
<g clip-path="url(#cc)">
<rect x="404.3" y="288" width="490.2" height="51.5" fill="#00fff7"/>
<path fill="#00ffd6" d="M417.3,288L894.8,288L894.8,339.5L404.3,339.5L404.3,298.8L406.8,298.8L409.3,298.3L411.8,297.3L413.8,296L415.3,294.5L416.6,292.5L417.2,290.5L417.3,288Z"/>
<path fill="#00ffb5" d="M420.3,288L894.8,288L894.8,339.5L404.3,339.5L404.3,301L407.3,300.9L410.3,300.3L413.3,299L415.8,297.4L417.6,295.5L419.1,293L419.8,290.5L419.9,288Z"/>
<path fill="#00ff94" d="M422.8,288L894.8,288L894.8,339.5L404.3,339.5L404.3,303.1L407.8,303L411.3,302.2L414.8,300.8L417.5,299L419.8,296.7L421.4,294L422.4,291L422.5,288Z"/>
<path fill="#00ff73" d="M424.8,288L894.8,288L894.8,339.5L404.3,339.5L404.3,304.9L408.3,304.7L412.3,303.8L416.3,302.1L419.3,300L421.7,297.5L423.5,294.5L424.5,291.5L424.7,288Z"/>
<path fill="#00ff52" d="M426.8,288L894.8,288L894.8,339.5L404.3,339.5L404.3,306.6L408.8,306.4L412.8,305.5L416.8,303.9L420.5,301.5L423.3,298.7L425.3,295.5L426.5,292L426.8,288Z"/>
<path fill="#00ff31" d="M429.3,288L894.8,288L894.8,339.5L404.3,339.5L404.3,308.3L409.3,308L413.9,307L418.3,305.1L422.2,302.5L425.1,299.5L427.3,296L428.6,292L428.9,288Z"/>
<path fill="#00ff10" d="M432.3,288L894.8,288L894.8,339.5L404.3,339.5L404.3,311L409.8,310.7L415.3,309.5L420.3,307.3L424.5,304.5L427.9,301L430.4,297L431.9,292.5L432.2,288Z"/>
<path fill="#10ff00" d="M436.8,288L441.8,288L442.3,288.5L443.8,289L444.8,290L446.3,290.5L450.3,293.5L450.8,293.5L454.8,297L455.3,297L462.3,304L462.3,304.5L465.8,308.5L465.8,309L467.8,311.5L468.8,314L469.8,315L469.8,315.5L470.8,317L470.8,318L472.3,320.5L472.3,321.5L472.8,322L472.8,323L473.3,323.5L473.3,324.5L473.8,325L473.8,326.5L474.3,327L474.3,329L474.8,329.5L474.8,331.5L475.3,332L475.3,339.5L404.3,339.5L404.3,314L410.8,314L411.3,313.5L413.3,313.5L413.8,313L415.3,313L415.8,312.5L416.8,312.5L417.3,312L419.8,311.5L420.3,311L422.8,310L425.3,308L425.8,308L427.3,306.5L427.8,306.5L430.8,303.5L430.8,303L432.3,301.5L432.3,301L433.3,300L434.8,297L434.9,296L435.8,294L435.9,291.5L436.3,291L436.4,288ZM646.3,288L894.8,288L894.8,339.5L620.3,339.5L620.3,339L620.8,338.5L621.3,337L622.3,336L622.3,335.5L622.8,335L622.8,334.5L623.3,334L623.3,333.5L623.8,333L623.8,332.5L624.3,332L625.8,328.5L626.8,327.5L626.8,327L627.3,326.5L627.3,326L627.8,325.5L627.8,325L628.3,324.5L629.8,321L630.8,320L630.8,319.5L631.3,319L631.3,318.5L631.8,318L631.8,317.5L632.3,317L633.8,313.5L634.8,312.5L634.8,312L635.3,311.5L635.3,311L635.8,310.5L635.8,310L636.3,309.5L636.3,309L636.8,308.5L638.3,305L639.3,304L639.3,303.5L639.8,303L639.8,302.5L640.3,302L640.3,301.5L640.8,301L642.3,297.5L643.3,296.5L643.3,296L645.8,291.5L645.8,288Z"/>
<path fill="#31ff00" d="M646.3,288L894.8,288L894.8,339.5L629.2,339.5L645.8,293.2L646,288ZM431.3,303.2L436.3,306.2L441.2,310L445.3,314.1L448.8,318.8L451.4,323.5L453.4,328.5L454.6,334L454.9,339.5L404.3,339.5L404.3,314.1L410.8,314.1L411.3,313.6L413.3,313.6L413.8,313.2L415.3,313.1L415.8,312.7L416.8,312.7L417.3,312.2L419.8,311.7L421.3,310.7L422.8,310.2L425.3,308.3L425.8,308.3L427.3,306.8L427.8,306.8L431.3,303.5Z"/>
<path fill="#52ff00" d="M646.3,288L894.8,288L894.8,339.5L635.2,339.5L645.8,295.3L646.1,288ZM423.8,309.5L424.8,309.2L425.3,309.4L431.8,313.3L436.1,317L439.5,321L442.3,325.5L444.1,330L445.2,334.5L445.5,339.5L404.3,339.5L404.3,314.2L410.8,314.2L411.3,313.8L413.3,313.8L413.8,313.3L415.3,313.3L415.8,312.8L416.8,312.8L417.3,312.3L419.8,311.9L421.3,310.9L422.8,310.4L423.8,309.5Z"/>
<path fill="#73ff00" d="M646.3,288L894.8,288L894.8,339.5L639.6,339.5L646.2,296L646.3,288ZM417.3,312.5L419.3,312.6L425.3,315.5L429.8,318.8L433.4,322.5L436.2,326.5L438,330.5L439.2,335L439.5,339.5L404.3,339.5L404.3,314.3L410.8,314.4L411.3,313.9L413.3,313.9L413.8,313.4L415.3,313.4L415.8,312.9L416.8,313L417.3,312.5Z"/>
<path fill="#94ff00" d="M646.8,288L894.8,288L894.8,339.5L643.4,339.5L646.3,302.1L646.4,288ZM404.8,314.5L411.3,314.3L415.8,315.5L421.3,317.8L426,321L430,325L432.8,329.5L434.4,334L435,339.5L404.3,339.5L404.3,314.5Z"/>
<path fill="#b5ff00" d="M646.8,288L894.8,288L894.8,339.5L646.9,339.5L647.1,318.5L646.5,303L646.4,288ZM405.3,315.5L410.8,316L415.8,317.2L420.8,319.5L425.1,322.5L428.4,326L431.2,330.5L432.6,335L433,339.5L404.3,339.5L404.3,315.5L404.8,315.5Z"/>
<path fill="#d6ff00" d="M646.8,288L894.8,288L894.8,339.5L650.9,339.5L649.3,317L647.3,316.9L647.1,315.5L646.5,300L646.5,288ZM404.8,317.2L409.8,317.5L414.8,318.7L419.3,320.7L423.5,323.5L426.8,327L429.3,331L430.6,335L431.1,339.5L404.3,339.5L404.3,317.2Z"/>
<path fill="#f7ff00" d="M646.8,288L894.8,288L894.8,339.5L657.7,339.5L652.7,315.5L647.3,315.6L646.6,300L646.6,288ZM404.8,318.4L409.8,318.7L414.3,319.8L418.8,321.8L422.6,324.5L425.8,327.9L428,331.5L429.3,335.5L429.6,339.5L404.3,339.5L404.3,318.4Z"/>
<path fill="#ffe600" d="M646.8,288L688.4,288L688.4,288.5L688.3,291L687.8,293.5L685.7,298L681.9,302.5L676.6,306.5L670.3,309.7L663.3,312L655.3,313.5L647.3,313.9L646.7,300L646.7,288ZM404.8,319.3L409.3,319.6L413.8,320.7L418,322.5L421.8,325.1L424.6,328L426.8,331.5L428.2,335.5L428.5,339.5L404.3,339.5L404.3,319.3Z"/>
<path fill="#ffc500" d="M646.8,288L683.1,288L683.1,288.5L682.5,293L680.6,297L677.3,300.9L672.8,304.2L666.8,307.2L660.8,309.1L654.3,310.3L647.3,310.7L646.8,299.5L646.8,288ZM404.8,320.2L409.3,320.5L413.3,321.5L417.3,323.2L420.8,325.6L423.7,328.5L425.9,332L427.1,335.5L427.4,339.5L404.3,339.5L404.3,320.2Z"/>
<path fill="#ffa500" d="M647.3,288L678.4,288L678.4,289L677.9,292.5L676.2,296L673.2,299.5L669.3,302.3L664.8,304.6L659.3,306.4L653.3,307.5L647.3,307.9L646.9,299.5L646.8,288ZM404.8,320.8L409.8,321.2L413.8,322.3L417.8,324.3L420.3,326.1L423.5,329.5L425.1,332L426.4,336L426.7,339.5L404.3,339.5L404.3,320.9Z"/>
<path fill="#ff8400" d="M647.3,288L674.9,288L674.9,289L674.3,292.5L672.8,295.5L670,298.5L666.8,300.9L662.4,303L657.8,304.5L652.8,305.4L647.3,305.7L646.9,299.5L646.9,288ZM404.8,321.2L408.8,321.4L413.3,322.5L416.8,324.1L420.3,326.5L423.1,329.5L424.9,332.5L426,336L426.3,339.5L404.3,339.5L404.3,321.2Z"/>
<path fill="#ff6300" d="M647.3,288L671.7,288L671.8,289L671.3,292L670.1,294.5L667.8,297.1L664.6,299.5L660.8,301.4L656.8,302.7L652.3,303.5L647.3,303.8L647,288ZM404.8,321.5L408.8,321.7L412.8,322.7L416.3,324.2L419.8,326.5L422.7,329.5L424.5,332.5L425.7,336L426,339.5L404.3,339.5L404.3,321.5Z"/>
<path fill="#ff4200" d="M647.3,288L668.6,288L668.7,289L668.3,291.5L667,294L664.8,296.4L662.3,298.2L658.8,299.9L655.3,301L651.3,301.7L647.3,302L647.1,288ZM404.8,321.8L408.8,322L412.8,323L416.3,324.5L419.8,326.9L422.3,329.5L424.2,332.5L425.3,336L425.6,339.5L404.3,339.5L404.3,321.8Z"/>
<path fill="#ff2100" d="M647.3,288L666.7,288L666.8,289L666.3,291.5L665.3,293.5L663.5,295.5L660.8,297.5L657.8,298.9L654.3,300L650.8,300.6L647.3,300.8L647.1,288ZM404.8,322L408.8,322.3L412.8,323.3L416.3,324.8L419.4,327L421.9,329.5L423.8,332.5L425,336L425.3,339.5L404.3,339.5L404.3,322.1Z"/>
<path fill="#ff0000" d="M647.3,288L665.7,288L665.8,289L665.3,291.5L664.2,293.5L662.4,295.5L660.3,297L657.1,298.5L653.8,299.5L647.3,300.2L647.2,288ZM404.8,322.3L408.1,322.5L412.5,323.5L416,325L419.3,327.3L421.8,329.9L423.4,332.5L424.8,336.8L425,339.5L404.3,339.5L404.3,322.3Z"/>
</g>
<rect x="527.5" y="265.8" width="125.9" height="3.2" fill="#ff0800"/><rect x="527.5" y="265.6" width="125.9" height="1" fill="#ff9a00" opacity="0.9"/>
<rect x="650.3" y="265.8" width="3.1" height="23" fill="#ff0800"/>
<rect x="652.6" y="266" width="1" height="22.8" fill="#ff9a00" opacity="0.9"/>
<rect x="142.6" y="335.9" width="262.7" height="2.4" fill="#940000"/>
</g>
<path d="M76.7,282.9 80,282.9 83,282.9 86,282.9 88.9,282.9 91.6,282.9 94,282.9 95.5,282.9 96.9,282.9 98.2,282.9 99.4,282.8 100.5,282.7 101.1,282.6 101.7,282.4 102.2,282.2 102.8,282.1 103.5,281.9 105.2,281.7 107.3,281.5 109.5,281.3 111.7,281 113.8,280.6 115.4,280.1 117,279.6 118.5,279 120.1,278.3 121.6,277.6 123.3,276.8 124.9,275.9 126.6,275 128.3,274.1 130,273.3 131.7,272.5 133.3,271.7 135,271 136.7,270.2 138.5,269.5 140.8,268.6 143.2,267.8 145.6,267 148.1,266.2 150.6,265.5 153,264.8 155.5,264.2 158,263.7 160.4,263.2 162.7,262.8 164.5,262.6 166.1,262.5 167.7,262.4 169.6,262.4 172,262.3 182.7,262.2 197.7,262.1 215,262.1 233.1,262.2 250,262.2 267.6,262.4 286.6,262.8 305,263.1 320.7,263 331.5,262.1 333.7,261.7 335.4,261.2 336.8,260.7 338.1,260 339.5,259.2 341.1,258 342.6,256.5 344,254.9 345.4,253.2 346.8,251.5 348.2,249.8 349.6,248 351,246.3 352.4,244.5 354,242.8 355.8,241.1 357.7,239.3 359.7,237.7 361.7,236.1 363.7,234.5 365.6,233 367.5,231.6 369.5,230.3 371.4,229 373.4,227.7 375.3,226.5 377.2,225.4 379.2,224.3 381.1,223.3 383.1,222.4 385,221.6 387,221 388.9,220.4 390.9,219.8 392.8,219.3 394.7,218.8 396.6,218.2 398.5,217.8 400.4,217.3 402.4,216.9 404.7,216.5 407.1,216.2 409.6,215.9 412.1,215.7 414.5,215.4 452.5,215.4 505.6,215.4 506,215 506.4,214.6 506.9,214.2 507.4,213.7 508,213.2 509.8,211.8 512,210 514.6,208.1 517.3,206.2 520,204.5 522.9,203 525.9,201.6 529.1,200.3 532.2,199 535.3,197.9 538.2,196.9 541.1,195.9 544,195 547,194.2 550,193.5 553.2,192.9 556.4,192.4 559.7,192.1 563.2,191.8 567,191.5 572.9,191.3 579.3,191.2 586.1,191.2 593.1,191.3 600,191.3 607.5,191.2 615.3,191.1 623.1,191.1 630.4,191.1 637,191.5 641,191.9 644.7,192.4 648.1,193 651.5,193.7 655,194.5 658.6,195.4 662.3,196.5 665.9,197.6 669.5,198.8 673.1,200 676.6,201.3 680.1,202.7 683.5,204.1 686.9,205.4 690,206.5 692.2,207.2 694.3,207.9 696.4,208.5 698.4,209 700.6,209.5 703,210 705.4,210.4 707.9,210.7 710.5,211 713.4,211.2 717.7,211.4 722.3,211.4 727.3,211.3 733.1,211.2 740,211.2 762.6,211.2 792.3,211.2 826,211.1 860.8,211.1 893.5,211.1 893.5,211.1" fill="none" stroke="#1a1a1a" stroke-width="1.15"/>
<path d="M893.5,211.1 893.5,665.3" fill="none" stroke="#1a1a1a" stroke-width="1.15"/>
<path d="M472.5,215.4 527.5,215.4 527.5,269.2" fill="none" stroke="#000" stroke-width="1.15"/>
<path d="M142.6,338 142.6,334 143.2,330 145.5,325.5 149,321.5 153.5,318.3 158,316.7 162,316.3 381.5,316.3 384,315.2 385,312.5 385,293 385.8,286 388,280.5 391.5,275.5 396,272 400.5,270 404,269.3 650.3,269.3" fill="none" stroke="#000" stroke-width="1.15"/>
<path d="M405.3,338.5 405.3,289 893.5,289" fill="none" stroke="#000" stroke-width="1.15"/>
<path d="M76.7,338.7 893.5,338.7" fill="none" stroke="#000" stroke-width="1.0" opacity="0.75"/>
<path d="M650.3,269.3 650.3,289" fill="none" stroke="#000" stroke-width="1.0"/>
<path d="M82.2,4.6 76.7,4.6 76.7,665.3 928.7,665.3" fill="none" stroke="#303030" stroke-width="1.5"/>
<path d="M76.7,44H71.7M76.7,63.5H73.7M76.7,83H73.7M76.7,102.6H73.7M76.7,122.1H73.7M76.7,141.6H71.7M76.7,161.1H73.7M76.7,180.7H73.7M76.7,200.2H73.7M76.7,219.7H73.7M76.7,239.3H71.7M76.7,258.8H73.7M76.7,278.3H73.7M76.7,297.8H73.7M76.7,317.4H73.7M76.7,336.9H71.7M76.7,356.4H73.7M76.7,376H73.7M76.7,395.5H73.7M76.7,415H73.7M76.7,434.5H71.7M76.7,454.1H73.7M76.7,473.6H73.7M76.7,493.1H73.7M76.7,512.7H73.7M76.7,532.2H71.7M76.7,551.7H73.7M76.7,571.2H73.7M76.7,590.8H73.7M76.7,610.3H73.7M76.7,629.8H71.7M77.5,665.3V668.8M126.4,665.3V670.3M175.3,665.3V668.8M224.2,665.3V668.8M273,665.3V668.8M321.9,665.3V668.8M370.8,665.3V670.3M419.7,665.3V668.8M468.6,665.3V668.8M517.4,665.3V668.8M566.3,665.3V668.8M615.2,665.3V670.3M664.1,665.3V668.8M713,665.3V668.8M761.8,665.3V668.8M810.7,665.3V668.8M859.6,665.3V670.3M908.5,665.3V668.8" stroke="#303030" stroke-width="1.4" fill="none"/>
<g font-family='"Liberation Sans", Arial, sans-serif' font-weight="bold" font-size="21.5" fill="#000"><text x="63.4" y="51" text-anchor="end">-6</text><text x="63.4" y="148.6" text-anchor="end">-4</text><text x="63.4" y="246.3" text-anchor="end">-2</text><text x="63.4" y="343.9" text-anchor="end">0</text><text x="63.4" y="441.5" text-anchor="end">2</text><text x="63.4" y="539.2" text-anchor="end">4</text><text x="63.4" y="636.8" text-anchor="end">6</text></g>
<g font-family='"Liberation Sans", Arial, sans-serif' font-weight="bold" font-size="21.8" fill="#000"><text x="126.4" y="695.8" text-anchor="middle" textLength="22" lengthAdjust="spacingAndGlyphs">10</text><text x="370.8" y="695.8" text-anchor="middle" textLength="22" lengthAdjust="spacingAndGlyphs">15</text><text x="615.2" y="695.8" text-anchor="middle" textLength="22" lengthAdjust="spacingAndGlyphs">20</text><text x="859.6" y="695.8" text-anchor="middle" textLength="22" lengthAdjust="spacingAndGlyphs">25</text></g>
<text x="452.6" y="722.5" font-family='"Liberation Sans", Arial, sans-serif' font-weight="bold" font-size="29" textLength="195" lengthAdjust="spacingAndGlyphs">Distance (um)</text>
<text transform="translate(19.8,440.3) rotate(-90)" font-family='"Liberation Sans", Arial, sans-serif' font-weight="bold" font-size="29" textLength="208" lengthAdjust="spacingAndGlyphs">Thickness (um)</text>
<rect x="126.2" y="241.2" width="25.3" height="7.1" fill="#0000ff"/><rect x="126.2" y="234.4" width="25.3" height="7.1" fill="#0021ff"/><rect x="126.2" y="227.7" width="25.3" height="7.1" fill="#0042ff"/><rect x="126.2" y="220.9" width="25.3" height="7.1" fill="#0063ff"/><rect x="126.2" y="214.1" width="25.3" height="7.1" fill="#0084ff"/><rect x="126.2" y="207.3" width="25.3" height="7.1" fill="#00a5ff"/><rect x="126.2" y="200.6" width="25.3" height="7.1" fill="#00c5ff"/><rect x="126.2" y="193.8" width="25.3" height="7.1" fill="#00e6ff"/><rect x="126.2" y="187" width="25.3" height="7.1" fill="#00fff7"/><rect x="126.2" y="180.2" width="25.3" height="7.1" fill="#00ffd6"/><rect x="126.2" y="173.5" width="25.3" height="7.1" fill="#00ffb5"/><rect x="126.2" y="166.7" width="25.3" height="7.1" fill="#00ff94"/><rect x="126.2" y="159.9" width="25.3" height="7.1" fill="#00ff73"/><rect x="126.2" y="153.2" width="25.3" height="7.1" fill="#00ff52"/><rect x="126.2" y="146.4" width="25.3" height="7.1" fill="#00ff31"/><rect x="126.2" y="139.6" width="25.3" height="7.1" fill="#00ff10"/><rect x="126.2" y="132.8" width="25.3" height="7.1" fill="#10ff00"/><rect x="126.2" y="126.1" width="25.3" height="7.1" fill="#31ff00"/><rect x="126.2" y="119.3" width="25.3" height="7.1" fill="#52ff00"/><rect x="126.2" y="112.5" width="25.3" height="7.1" fill="#73ff00"/><rect x="126.2" y="105.7" width="25.3" height="7.1" fill="#94ff00"/><rect x="126.2" y="99" width="25.3" height="7.1" fill="#b5ff00"/><rect x="126.2" y="92.2" width="25.3" height="7.1" fill="#d6ff00"/><rect x="126.2" y="85.4" width="25.3" height="7.1" fill="#f7ff00"/><rect x="126.2" y="78.6" width="25.3" height="7.1" fill="#ffe600"/><rect x="126.2" y="71.9" width="25.3" height="7.1" fill="#ffc500"/><rect x="126.2" y="65.1" width="25.3" height="7.1" fill="#ffa500"/><rect x="126.2" y="58.3" width="25.3" height="7.1" fill="#ff8400"/><rect x="126.2" y="51.5" width="25.3" height="7.1" fill="#ff6300"/><rect x="126.2" y="44.8" width="25.3" height="7.1" fill="#ff4200"/><rect x="126.2" y="38" width="25.3" height="7.1" fill="#ff2100"/><rect x="126.2" y="31.2" width="25.3" height="7.1" fill="#ff0000"/>
<g font-family='"Liberation Sans", Arial, sans-serif' font-weight="bold" font-size="14.4" fill="#111"><text x="154.6" y="42.1" textLength="64" lengthAdjust="spacingAndGlyphs">2.000e+04</text><text x="154.6" y="76" textLength="64" lengthAdjust="spacingAndGlyphs">1.667e+04</text><text x="154.6" y="109.8" textLength="64" lengthAdjust="spacingAndGlyphs">1.333e+04</text><text x="154.6" y="143.7" textLength="64" lengthAdjust="spacingAndGlyphs">1.000e+04</text><text x="154.6" y="177.6" textLength="64" lengthAdjust="spacingAndGlyphs">6.667e+03</text><text x="154.6" y="211.4" textLength="64" lengthAdjust="spacingAndGlyphs">3.333e+03</text><text x="154.6" y="245.3" textLength="64" lengthAdjust="spacingAndGlyphs">0.000e+00</text></g>
<text x="123.6" y="20.3" font-family='"Liberation Sans", Arial, sans-serif' font-weight="bold" font-size="12.8" fill="#111" textLength="197.2" lengthAdjust="spacingAndGlyphs">Abs(ElectricField-V) (V*cm^-1)</text>
</g>
<text x="1114.7" y="1576.5" text-anchor="middle" font-family='"Liberation Sans", Arial, sans-serif' font-size="31" textLength="40.5" lengthAdjust="spacingAndGlyphs" fill="#000">(c)</text>
</svg>
</body></html>
